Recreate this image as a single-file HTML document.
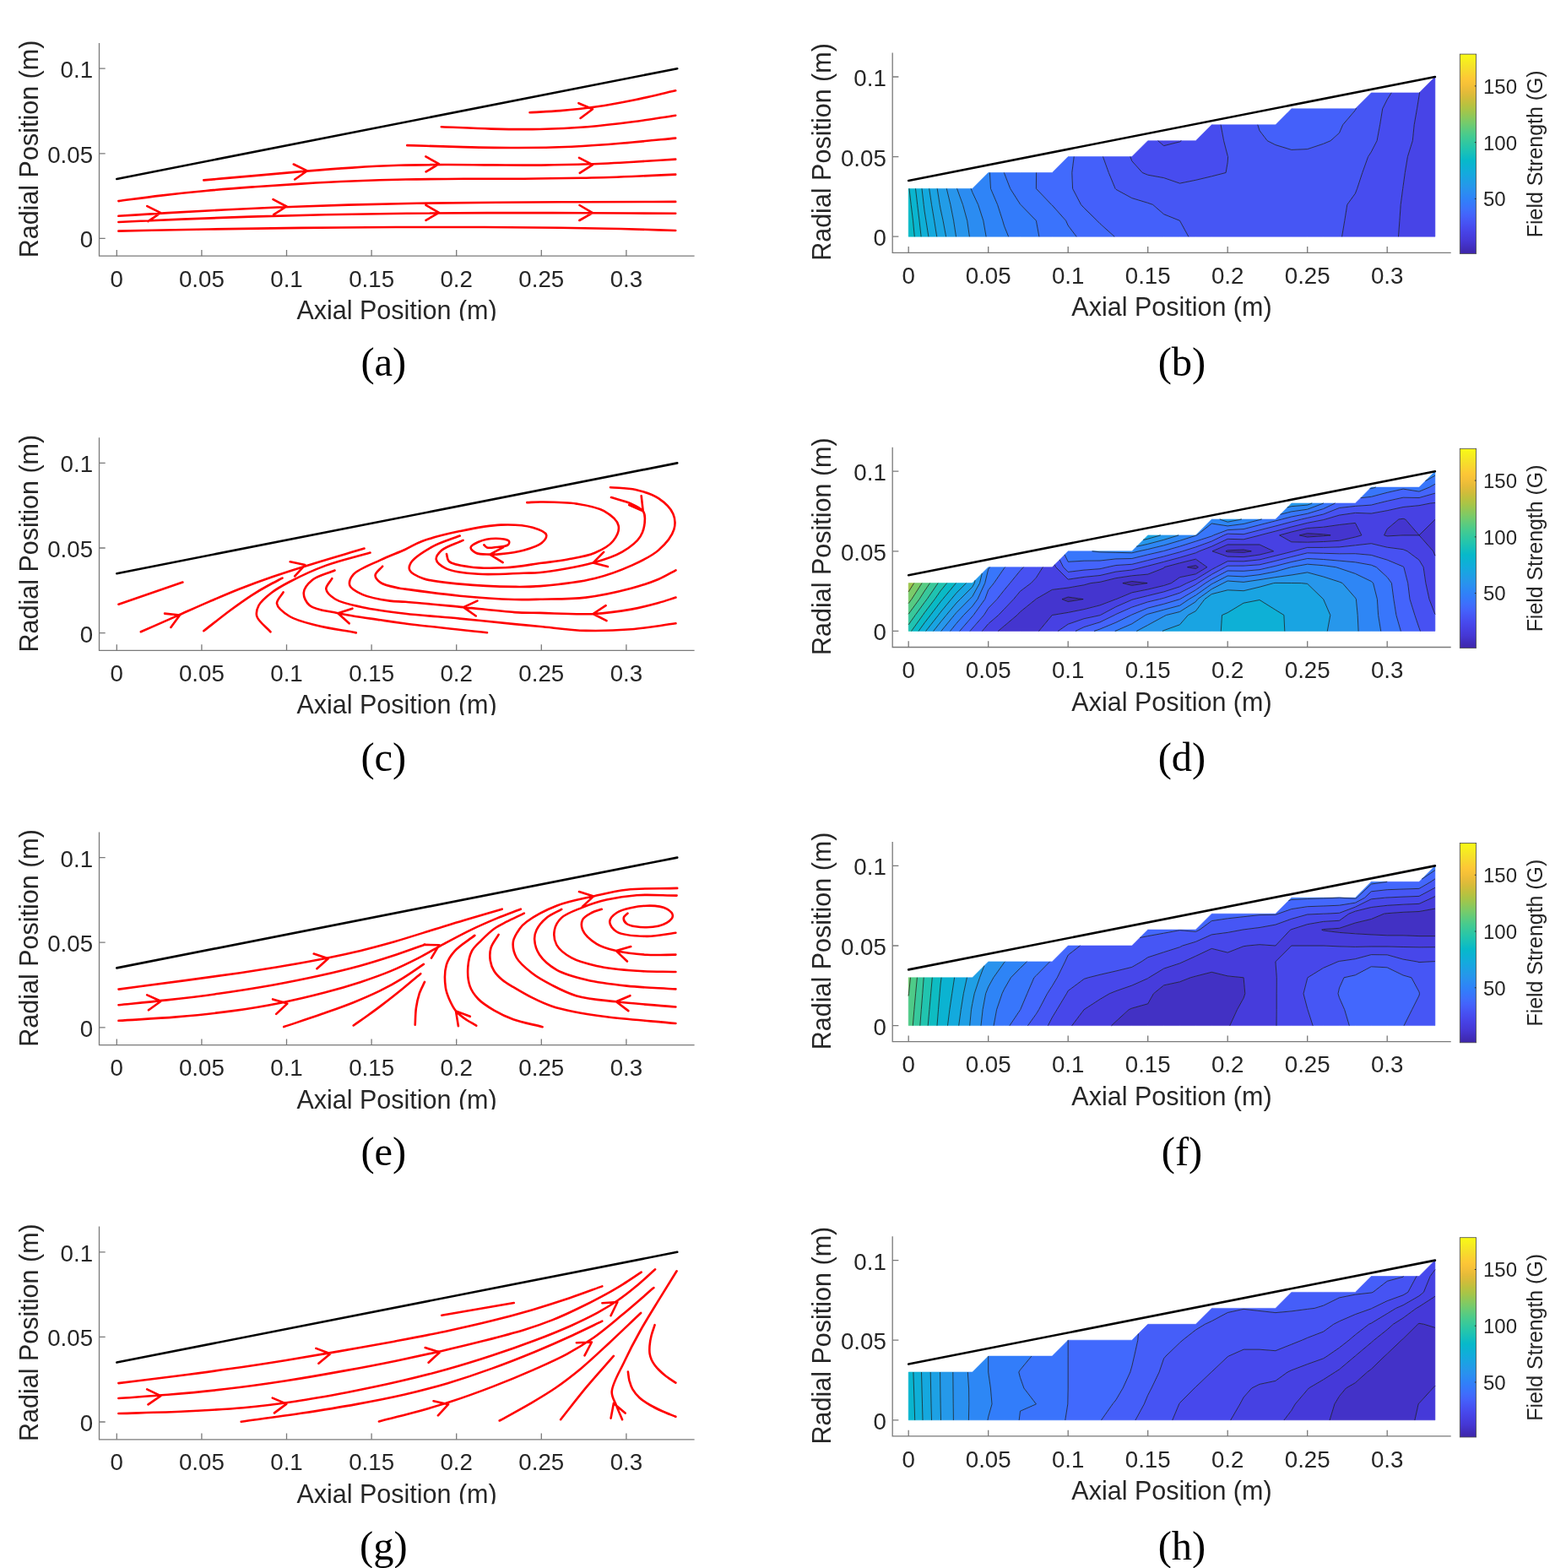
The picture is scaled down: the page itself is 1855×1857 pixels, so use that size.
<!DOCTYPE html>
<html><head><meta charset="utf-8"><style>
html,body{margin:0;padding:0;background:#fff;}
svg{display:block;}
</style></head><body>
<svg xmlns="http://www.w3.org/2000/svg" width="1855" height="1857" viewBox="0 0 1855 1857" font-family="'Liberation Sans', Arial, sans-serif" fill="#262626">
<rect width="1855" height="1857" fill="#fff"/>
<defs><linearGradient id="parula" x1="0" y1="0" x2="0" y2="1"><stop offset="0.0000" stop-color="#f9fb15"/><stop offset="0.0312" stop-color="#f7ee1f"/><stop offset="0.0625" stop-color="#f6e129"/><stop offset="0.0938" stop-color="#f9d430"/><stop offset="0.1250" stop-color="#fdc736"/><stop offset="0.1562" stop-color="#f4c038"/><stop offset="0.1875" stop-color="#e5bb39"/><stop offset="0.2188" stop-color="#d2bc3a"/><stop offset="0.2500" stop-color="#bcc13e"/><stop offset="0.2812" stop-color="#a6c548"/><stop offset="0.3125" stop-color="#8ec859"/><stop offset="0.3438" stop-color="#76cb6b"/><stop offset="0.3750" stop-color="#5ecb7d"/><stop offset="0.4062" stop-color="#47cb8e"/><stop offset="0.4375" stop-color="#35c89d"/><stop offset="0.4688" stop-color="#24c5ac"/><stop offset="0.5000" stop-color="#16bfbb"/><stop offset="0.5312" stop-color="#07b9c9"/><stop offset="0.5625" stop-color="#0cb2d3"/><stop offset="0.5938" stop-color="#13abdc"/><stop offset="0.6250" stop-color="#1ba2e3"/><stop offset="0.6562" stop-color="#2499e9"/><stop offset="0.6875" stop-color="#2a8ff0"/><stop offset="0.7188" stop-color="#2e84f7"/><stop offset="0.7500" stop-color="#3579fb"/><stop offset="0.7812" stop-color="#3e6efc"/><stop offset="0.8125" stop-color="#4461fb"/><stop offset="0.8438" stop-color="#4654f4"/><stop offset="0.8750" stop-color="#4748ec"/><stop offset="0.9062" stop-color="#463fe1"/><stop offset="0.9375" stop-color="#4537d4"/><stop offset="0.9688" stop-color="#412ebe"/><stop offset="1.0000" stop-color="#3e26a8"/></linearGradient><clipPath id="clipx0L"><rect x="0" y="0" width="1855" height="379.7"/></clipPath><clipPath id="clipx0R"><rect x="0" y="0" width="1855" height="1000"/></clipPath><clipPath id="clipx1L"><rect x="0" y="467.2" width="1855" height="379.7"/></clipPath><clipPath id="clipx1R"><rect x="0" y="467.2" width="1855" height="1000"/></clipPath><clipPath id="clipx2L"><rect x="0" y="934.4" width="1855" height="379.7"/></clipPath><clipPath id="clipx2R"><rect x="0" y="934.4" width="1855" height="1000"/></clipPath><clipPath id="clipx3L"><rect x="0" y="1401.6" width="1855" height="379.7"/></clipPath><clipPath id="clipx3R"><rect x="0" y="1401.6" width="1855" height="1000"/></clipPath></defs>
<g id="row0">
<path d="M1656.5 280.2L1662.1 280.2L1681 280.2L1699.9 280.2L1699.9 261.3L1699.9 242.4L1699.9 223.4L1699.9 204.5L1699.9 185.6L1699.9 166.7L1699.9 147.8L1699.9 128.8L1699.9 109.9L1699.9 91L1681.5 109.4L1681.5 109.9L1681 113.3L1678.5 128.8L1675.2 147.8L1673.3 166.7L1667.4 185.6L1664.3 204.5L1662.1 220.5L1661.7 223.4L1659.2 242.4L1657.9 261.3ZM1371.7 166.7L1378.6 172.6L1397.5 167.9L1399.3 166.7L1397.5 166.7L1378.6 166.7Z" fill="#4744e7" stroke="#4744e7" stroke-width="0.6" stroke-linejoin="round"/>
<path d="M1589.6 280.2L1605.4 280.2L1624.3 280.2L1643.2 280.2L1656.5 280.2L1657.9 261.3L1659.2 242.4L1661.7 223.4L1662.1 220.5L1664.3 204.5L1667.4 185.6L1673.3 166.7L1675.2 147.8L1678.5 128.8L1681 113.3L1681.5 109.9L1681.5 109.4L1681 109.9L1662.1 109.9L1648.1 109.9L1643.2 117.8L1637.7 128.8L1634.6 147.8L1631.1 166.7L1624.3 179.9L1620.6 185.6L1613.8 204.5L1607.6 223.4L1605.4 229.1L1595.8 242.4L1592.8 261.3ZM1353.2 204.5L1359.7 207.2L1378.6 210.6L1397.5 217.1L1416.4 213.3L1435.3 208.8L1452.1 204.5L1454.2 192.1L1454.6 185.6L1454.2 184.5L1449.6 166.7L1446.1 147.8L1435.3 147.8L1416.4 166.7L1399.3 166.7L1397.5 167.9L1378.6 172.6L1371.7 166.7L1359.7 166.7L1340.8 185.6L1338.9 185.6L1340.8 190.7Z" fill="#474cef" stroke="#474cef" stroke-width="0.6" stroke-linejoin="round"/>
<path d="M1397.5 261.3L1397.5 261.3L1407.8 280.2L1416.4 280.2L1435.3 280.2L1454.2 280.2L1473.1 280.2L1492 280.2L1510.9 280.2L1529.8 280.2L1548.7 280.2L1567.6 280.2L1586.5 280.2L1589.6 280.2L1592.8 261.3L1595.8 242.4L1605.4 229.1L1607.6 223.4L1613.8 204.5L1620.6 185.6L1624.3 179.9L1631.1 166.7L1634.6 147.8L1637.7 128.8L1643.2 117.8L1648.1 109.9L1643.2 109.9L1624.3 109.9L1606.2 128L1606.3 128.8L1605.4 130.5L1590.6 147.8L1586.5 157.4L1576.2 166.7L1567.6 170.3L1548.7 176.6L1529.8 177.4L1510.9 171.6L1501.2 166.7L1492 154.7L1489.8 147.8L1473.1 147.8L1454.2 147.8L1446.1 147.8L1449.6 166.7L1454.2 184.5L1454.6 185.6L1454.2 192.1L1452.1 204.5L1435.3 208.8L1416.4 213.3L1397.5 217.1L1378.6 210.6L1359.7 207.2L1353.2 204.5L1340.8 190.7L1338.9 185.6L1321.9 185.6L1306.5 185.6L1313.3 204.5L1321.1 223.4L1321.9 224.3L1340.8 234.6L1359.7 240.3L1365.6 242.4L1378.6 253.7Z" fill="#4656f4" stroke="#4656f4" stroke-width="0.6" stroke-linejoin="round"/>
<path d="M1299.5 261.3L1303 264.8L1320.1 280.2L1321.9 280.2L1340.8 280.2L1359.7 280.2L1378.6 280.2L1397.5 280.2L1407.8 280.2L1397.5 261.3L1397.5 261.3L1378.6 253.7L1365.6 242.4L1359.7 240.3L1340.8 234.6L1321.9 224.3L1321.1 223.4L1313.3 204.5L1306.5 185.6L1303 185.6L1284.1 185.6L1272.2 185.6L1269.8 204.5L1270.6 223.4L1280.5 242.4L1284.1 246.2ZM1501.2 166.7L1510.9 171.6L1529.8 177.4L1548.7 176.6L1567.6 170.3L1576.2 166.7L1586.5 157.4L1590.6 147.8L1605.4 130.5L1606.3 128.8L1606.2 128L1605.4 128.8L1586.5 128.8L1567.6 128.8L1548.7 128.8L1529.8 128.8L1510.9 147.8L1492 147.8L1489.8 147.8L1492 154.7Z" fill="#4460fa" stroke="#4460fa" stroke-width="0.6" stroke-linejoin="round"/>
<path d="M1262.6 261.3L1265.2 267.1L1275.1 280.2L1284.1 280.2L1303 280.2L1320.1 280.2L1303 264.8L1299.5 261.3L1284.1 246.2L1280.5 242.4L1270.6 223.4L1269.8 204.5L1272.2 185.6L1265.2 185.6L1246.3 204.5L1227.6 204.5L1227.4 223.4L1227.4 223.4L1227.4 223.4L1245.5 242.4L1246.3 243Z" fill="#416afd" stroke="#416afd" stroke-width="0.6" stroke-linejoin="round"/>
<path d="M1227.4 261.3L1227.4 261.3L1230.9 280.2L1246.3 280.2L1265.2 280.2L1275.1 280.2L1265.2 267.1L1262.6 261.3L1246.3 243L1245.5 242.4L1227.4 223.4L1227.4 223.4L1227.4 223.4L1227.6 204.5L1227.4 204.5L1208.5 204.5L1189.6 204.5L1189.4 204.5L1189.6 205.1L1196.7 223.4L1208.5 241.9L1209 242.4Z" fill="#3a73fc" stroke="#3a73fc" stroke-width="0.6" stroke-linejoin="round"/>
<path d="M1187.7 261.3L1189.6 267.8L1194.6 280.2L1208.5 280.2L1227.4 280.2L1230.9 280.2L1227.4 261.3L1227.4 261.3L1209 242.4L1208.5 241.9L1196.7 223.4L1189.6 205.1L1189.4 204.5L1172.4 204.5L1173.5 223.4L1181.6 242.4Z" fill="#337bfa" stroke="#337bfa" stroke-width="0.6" stroke-linejoin="round"/>
<path d="M1168.1 280.2L1170.7 280.2L1189.6 280.2L1194.6 280.2L1189.6 267.8L1187.7 261.3L1181.6 242.4L1173.5 223.4L1172.4 204.5L1170.7 204.5L1151.8 223.4L1150.2 223.4L1151.8 227.7L1158.7 242.4L1164.8 261.3Z" fill="#2f84f7" stroke="#2f84f7" stroke-width="0.6" stroke-linejoin="round"/>
<path d="M1148.4 280.2L1151.8 280.2L1168.1 280.2L1164.8 261.3L1158.7 242.4L1151.8 227.7L1150.2 223.4L1133.6 223.4L1140.5 242.4L1145.7 261.3Z" fill="#2b8cf1" stroke="#2b8cf1" stroke-width="0.6" stroke-linejoin="round"/>
<path d="M1132.5 280.2L1132.9 280.2L1148.4 280.2L1145.7 261.3L1140.5 242.4L1133.6 223.4L1132.9 223.4L1121.3 223.4L1125.9 242.4L1129.6 261.3Z" fill="#2895ec" stroke="#2895ec" stroke-width="0.6" stroke-linejoin="round"/>
<path d="M1120.6 280.2L1132.5 280.2L1129.6 261.3L1125.9 242.4L1121.3 223.4L1114 223.4L1110.2 223.4L1113.2 242.4L1114 247.2L1117.1 261.3Z" fill="#229ce7" stroke="#229ce7" stroke-width="0.6" stroke-linejoin="round"/>
<path d="M1109.7 280.2L1114 280.2L1120.6 280.2L1117.1 261.3L1114 247.2L1113.2 242.4L1110.2 223.4L1100.7 223.4L1103.5 242.4L1106.7 261.3Z" fill="#1ba3e2" stroke="#1ba3e2" stroke-width="0.6" stroke-linejoin="round"/>
<path d="M1099.9 280.2L1109.7 280.2L1106.7 261.3L1103.5 242.4L1100.7 223.4L1095.1 223.4L1092 223.4L1094.2 242.4L1095.1 250L1096.9 261.3Z" fill="#14a9de" stroke="#14a9de" stroke-width="0.6" stroke-linejoin="round"/>
<path d="M1091.1 280.2L1095.1 280.2L1099.9 280.2L1096.9 261.3L1095.1 250L1094.2 242.4L1092 223.4L1084.5 223.4L1086.7 242.4L1089 261.3Z" fill="#0fafd6" stroke="#0fafd6" stroke-width="0.6" stroke-linejoin="round"/>
<path d="M1083.3 280.2L1091.1 280.2L1089 261.3L1086.7 242.4L1084.5 223.4L1077 223.4L1079.2 242.4L1081.5 261.3Z" fill="#0ab5cf" stroke="#0ab5cf" stroke-width="0.6" stroke-linejoin="round"/>
<path d="M1076.2 280.2L1083.3 280.2L1081.5 261.3L1079.2 242.4L1077 223.4L1076.2 223.4L1076.2 242.4L1076.2 261.3Z" fill="#09bac7" stroke="#09bac7" stroke-width="0.6" stroke-linejoin="round"/>
<path d="M1656.5 280.2L1657.9 261.3L1659.2 242.4L1661.7 223.4L1662.1 220.5L1664.3 204.5L1667.4 185.6L1673.3 166.7L1675.2 147.8L1678.5 128.8L1681 113.3L1681.5 109.9L1681.5 109.4M1399.3 166.7L1397.5 167.9L1378.6 172.6L1371.7 166.7M1589.6 280.2L1592.8 261.3L1595.8 242.4L1605.4 229.1L1607.6 223.4L1613.8 204.5L1620.6 185.6L1624.3 179.9L1631.1 166.7L1634.6 147.8L1637.7 128.8L1643.2 117.8L1648.1 109.9M1446.1 147.8L1449.6 166.7L1454.2 184.5L1454.6 185.6L1454.2 192.1L1452.1 204.5L1435.3 208.8L1416.4 213.3L1397.5 217.1L1378.6 210.6L1359.7 207.2L1353.2 204.5L1340.8 190.7L1338.9 185.6M1407.8 280.2L1397.5 261.3L1397.5 261.3L1378.6 253.7L1365.6 242.4L1359.7 240.3L1340.8 234.6L1321.9 224.3L1321.1 223.4L1313.3 204.5L1306.5 185.6M1489.8 147.8L1492 154.7L1501.2 166.7L1510.9 171.6L1529.8 177.4L1548.7 176.6L1567.6 170.3L1576.2 166.7L1586.5 157.4L1590.6 147.8L1605.4 130.5L1606.3 128.8L1606.2 128M1320.1 280.2L1303 264.8L1299.5 261.3L1284.1 246.2L1280.5 242.4L1270.6 223.4L1269.8 204.5L1272.2 185.6M1275.1 280.2L1265.2 267.1L1262.6 261.3L1246.3 243L1245.5 242.4L1227.4 223.4L1227.4 223.4L1227.4 223.4L1227.6 204.5M1230.9 280.2L1227.4 261.3L1227.4 261.3L1209 242.4L1208.5 241.9L1196.7 223.4L1189.6 205.1L1189.4 204.5M1194.6 280.2L1189.6 267.8L1187.7 261.3L1181.6 242.4L1173.5 223.4L1172.4 204.5M1168.1 280.2L1164.8 261.3L1158.7 242.4L1151.8 227.7L1150.2 223.4M1148.4 280.2L1145.7 261.3L1140.5 242.4L1133.6 223.4M1132.5 280.2L1129.6 261.3L1125.9 242.4L1121.3 223.4M1120.6 280.2L1117.1 261.3L1114 247.2L1113.2 242.4L1110.2 223.4M1109.7 280.2L1106.7 261.3L1103.5 242.4L1100.7 223.4M1099.9 280.2L1096.9 261.3L1095.1 250L1094.2 242.4L1092 223.4M1091.1 280.2L1089 261.3L1086.7 242.4L1084.5 223.4M1083.3 280.2L1081.5 261.3L1079.2 242.4L1077 223.4" fill="none" stroke="#1a1a1a" stroke-width="0.75" stroke-linejoin="round"/>
<path d="M1076.2 213.98L1699.9 91" stroke="#000" stroke-width="2.6" stroke-linecap="round"/>
<path d="M1057.2 62.6V299.3H1718.7" fill="none" stroke="#7a7a7a" stroke-width="1.3"/>
<path d="M1076.2 299.3v-7.2 M1170.7 299.3v-7.2 M1265.2 299.3v-7.2 M1359.7 299.3v-7.2 M1454.2 299.3v-7.2 M1548.7 299.3v-7.2 M1643.2 299.3v-7.2 M1057.2 280.2h7.2 M1057.2 185.6h7.2 M1057.2 91h7.2" stroke="#7a7a7a" stroke-width="1.3"/>
<text x="1076.2" y="335.9" text-anchor="middle" font-size="27.7">0</text>
<text x="1170.7" y="335.9" text-anchor="middle" font-size="27.7">0.05</text>
<text x="1265.2" y="335.9" text-anchor="middle" font-size="27.7">0.1</text>
<text x="1359.7" y="335.9" text-anchor="middle" font-size="27.7">0.15</text>
<text x="1454.2" y="335.9" text-anchor="middle" font-size="27.7">0.2</text>
<text x="1548.7" y="335.9" text-anchor="middle" font-size="27.7">0.25</text>
<text x="1643.2" y="335.9" text-anchor="middle" font-size="27.7">0.3</text>
<text x="1049.8" y="291.2" text-anchor="end" font-size="27.7">0</text>
<text x="1049.8" y="196.6" text-anchor="end" font-size="27.7">0.05</text>
<text x="1049.8" y="102" text-anchor="end" font-size="27.7">0.1</text>
<text x="1387.95" y="374.3" text-anchor="middle" font-size="30.5" clip-path="url(#clipx0R)">Axial Position (m)</text>
<text transform="translate(984,180) rotate(-90)" text-anchor="middle" font-size="30.5">Radial Position (m)</text>
<text x="1400" y="445.3" text-anchor="middle" font-family="'Liberation Serif', 'Times New Roman', serif" font-size="48.5" fill="#000">(b)</text>
<rect x="1729.3" y="64.1" width="19.3" height="236.3" fill="url(#parula)" stroke="#4a4a4a" stroke-width="0.8"/>
<text x="1757" y="244.28" font-size="24.0">50</text>
<text x="1757" y="177.53" font-size="24.0">100</text>
<text x="1757" y="110.78" font-size="24.0">150</text>
<path d="M1748.6 235.38h-1.8 M1748.6 168.63h-1.8 M1748.6 101.88h-1.8" stroke="#333" stroke-width="1"/>
<text transform="translate(1827.4,182.25) rotate(-90)" text-anchor="middle" font-size="24.9">Field Strength (G)</text>
<path d="M140.4 273.6C176 272.9 211.3 272.1 247.1 271.5C283.5 270.9 320.4 270.3 357.2 269.9C394.2 269.5 432.1 269.2 468.7 269C504.2 268.9 540.2 268.9 573.7 269C604.6 269.1 634.6 269.3 662.8 269.7C688.2 270 711.8 270.5 735.3 271C757.6 271.6 778.6 272.3 800.2 273M140.4 263C165.4 261.9 189.8 260.6 215.3 259.6C241.8 258.5 268.8 257.5 296.4 256.6C325.3 255.7 354.8 254.9 385 254.3C416.6 253.6 449 253.1 481.9 252.7C516 252.4 551.2 252.2 586.3 252.1C621.8 252 657.8 252.1 693.5 252.3C729.1 252.4 764.6 252.6 800.2 252.8M504.4 242.9L520 251.8L504.5 260.9M686.5 243L702 252.1L686.4 261M140.4 255.8C159.9 254.6 178.8 253.3 198.9 252.1C220.3 250.8 242.6 249.6 265.3 248.5C289 247.3 313.5 246.1 337.9 245.2C362.6 244.2 387.1 243.3 412.6 242.6C439.1 241.8 465.7 241.3 493.8 240.8C524.2 240.3 556.2 240 588.6 239.7C622.7 239.4 658.4 239.3 693.5 239.2C728.9 239 764.6 239 800.2 238.9M174.3 244.1L190.4 252.1L175.4 262.1M323.5 236.1L339.4 244.5L324.2 254.1M140.4 238.1C157.1 235.9 173.5 233.6 190.5 231.6C208 229.5 225.8 227.6 243.8 226C262.3 224.2 281 222.8 299.8 221.4C318.8 220 337.8 218.7 357 217.6C376.8 216.4 396.5 215.3 416.8 214.5C437.7 213.6 459 212.9 480.7 212.5C503.1 212 526.1 212 549.1 211.8C572.7 211.7 596.9 211.9 620.4 211.7C643.4 211.5 666.8 211.3 688.8 210.8C709.3 210.4 729.1 209.7 748.3 209C766.2 208.3 782.9 207.4 800.2 206.6M241.3 213.4C261.2 211.6 281.2 209.8 301 208.1C320.7 206.3 340.3 204.5 359.8 202.9C379 201.3 398.2 199.8 417.1 198.6C435.7 197.4 454.1 196.4 472.4 195.8C490.6 195.2 508.4 195.1 526.6 195C545.1 194.9 563.7 195.3 582.5 195.4C601.7 195.5 621.5 195.8 640.8 195.6C659.9 195.4 679.2 195 697.9 194.3C715.9 193.7 733.5 192.7 750.9 191.7C767.6 190.8 783.8 189.6 800.2 188.6M347.8 194.5L364 202.3L349.2 212.5M504.3 185.4L520 194.2L504.6 203.4M686 186.8L702 195.1L686.8 204.8M482.3 172.1C504.5 172.8 526.8 173.6 548.9 174.1C570.9 174.6 593 175.1 614.7 175C635.7 175 656.3 174.6 677 173.7C697.4 172.7 717.3 171.2 737.7 169.5C758.4 167.8 779.4 165.6 800.2 163.6M522.8 150.2C542.5 151 562.2 152.1 581.8 152.6C601.1 153.1 620.4 153.4 639.6 153C658.4 152.6 677.3 151.7 695.8 150.2C713.9 148.8 731.9 146.6 749.5 144.3C766.6 142.1 783.3 139.2 800.2 136.7M627.5 133.2C639.6 132.5 651.2 132.2 663.7 131.1C677.1 130 691.2 128.6 705.4 126.5C720.6 124.3 736.4 121.4 752.1 118.2C768 115 784.2 110.9 800.2 107.3M685.4 122.2L702 129.2L687.6 140" fill="none" stroke="#ff0000" stroke-width="2.6" stroke-linecap="round" stroke-linejoin="round"/>
<path d="M138.3 211.98L802.26 81.2" stroke="#000" stroke-width="2.6" stroke-linecap="round"/>
<path d="M117.5 51V303.2H822.6" fill="none" stroke="#7a7a7a" stroke-width="1.3"/>
<path d="M138.3 303.2v-7.2 M238.9 303.2v-7.2 M339.5 303.2v-7.2 M440.1 303.2v-7.2 M540.7 303.2v-7.2 M641.3 303.2v-7.2 M741.9 303.2v-7.2 M117.5 282.4h7.2 M117.5 181.8h7.2 M117.5 81.2h7.2" stroke="#7a7a7a" stroke-width="1.3"/>
<text x="138.3" y="339.8" text-anchor="middle" font-size="27.7">0</text>
<text x="238.9" y="339.8" text-anchor="middle" font-size="27.7">0.05</text>
<text x="339.5" y="339.8" text-anchor="middle" font-size="27.7">0.1</text>
<text x="440.1" y="339.8" text-anchor="middle" font-size="27.7">0.15</text>
<text x="540.7" y="339.8" text-anchor="middle" font-size="27.7">0.2</text>
<text x="641.3" y="339.8" text-anchor="middle" font-size="27.7">0.25</text>
<text x="741.9" y="339.8" text-anchor="middle" font-size="27.7">0.3</text>
<text x="110.1" y="293.4" text-anchor="end" font-size="27.7">0</text>
<text x="110.1" y="192.8" text-anchor="end" font-size="27.7">0.05</text>
<text x="110.1" y="92.2" text-anchor="end" font-size="27.7">0.1</text>
<text x="470.05" y="378.2" text-anchor="middle" font-size="30.5" clip-path="url(#clipx0L)">Axial Position (m)</text>
<text transform="translate(45,176.5) rotate(-90)" text-anchor="middle" font-size="30.5">Radial Position (m)</text>
<text x="454.3" y="445.3" text-anchor="middle" font-family="'Liberation Serif', 'Times New Roman', serif" font-size="48.5" fill="#000">(a)</text>
</g>
<g id="row1">
<path d="M1258 709.6L1265.2 712.5L1283.1 709.6L1265.2 707.1ZM1329.9 690.6L1340.8 693.3L1359.1 690.6L1340.8 688.5ZM1406.5 671.7L1416.4 673.5L1419.4 671.7L1416.4 669.6ZM1452 652.8L1454.2 653.6L1473.1 654.3L1482.3 652.8L1473.1 651.1L1454.2 651.8ZM1539.3 633.9L1548.7 636L1567.6 634.7L1576.1 633.9L1567.6 632.8L1548.7 631.7Z" fill="#3f28ae" stroke="#3f28ae" stroke-width="0.6" stroke-linejoin="round"/>
<path d="M1182.4 747.4L1189.6 747.4L1208.5 747.4L1227.4 747.4L1230.6 747.4L1246.3 728.5L1246.3 728.5L1265.2 725.4L1284.1 721.6L1303 716.8L1321.9 709.6L1322.1 709.6L1340.8 701.8L1359.7 698L1378.6 693.5L1387.4 690.6L1397.5 683.7L1416.4 679.8L1429.9 671.7L1416.4 662.2L1397.5 666.8L1379.2 671.7L1378.6 672.8L1359.7 680.1L1340.8 681.8L1321.9 684.7L1303 689.3L1292.1 690.6L1284.1 692.8L1265.2 696.1L1246.3 698.4L1227.4 709.3L1227.1 709.6L1208.5 724.6L1204.8 728.5L1189.6 741.3ZM1265.2 712.5L1258 709.6L1265.2 707.1L1283.1 709.6ZM1340.8 693.3L1329.9 690.6L1340.8 688.5L1359.1 690.6ZM1416.4 673.5L1406.5 671.7L1416.4 669.6L1419.4 671.7ZM1436.1 652.8L1454.2 659.1L1473.1 659.6L1492 657L1508.6 652.8L1492 645L1473.1 645L1454.2 645ZM1454.2 653.6L1452 652.8L1454.2 651.8L1473.1 651.1L1482.3 652.8L1473.1 654.3ZM1697.8 652.8L1699.9 658.1L1699.9 652.8L1699.9 633.9L1699.9 615.3L1681 633.9L1664.7 615L1662.1 614.3L1656.9 615L1643.2 626.5L1639.6 633.9L1643.2 634.9L1662.1 633.9L1681 633.9ZM1515.6 633.9L1529.8 641.8L1548.7 642.2L1567.6 641.5L1586.5 640.3L1605.4 636L1612.9 633.9L1605.4 619.4L1586.5 621.5L1567.6 624.2L1548.7 625.5L1529.8 630ZM1548.7 636L1539.3 633.9L1548.7 631.7L1567.6 632.8L1576.1 633.9L1567.6 634.7Z" fill="#4435cf" stroke="#4435cf" stroke-width="0.6" stroke-linejoin="round"/>
<path d="M1163.5 747.4L1170.7 747.4L1182.4 747.4L1189.6 741.3L1204.8 728.5L1208.5 724.6L1227.1 709.6L1227.4 709.3L1246.3 698.4L1265.2 696.1L1284.1 692.8L1292.1 690.6L1303 689.3L1321.9 684.7L1340.8 681.8L1359.7 680.1L1378.6 672.8L1379.2 671.7L1397.5 666.8L1416.4 662.2L1429.9 671.7L1416.4 679.8L1397.5 683.7L1387.4 690.6L1378.6 693.5L1359.7 698L1340.8 701.8L1322.1 709.6L1321.9 709.6L1303 716.8L1284.1 721.6L1265.2 725.4L1246.3 728.5L1246.3 728.5L1230.6 747.4L1246.3 747.4L1253.3 747.4L1265.2 739.2L1284.1 732.7L1303 728.7L1303.4 728.5L1321.9 718.6L1340.8 710.3L1343.2 709.6L1359.7 705.5L1378.6 700.9L1397.5 694.8L1405.8 690.6L1416.4 686.1L1435.3 674.5L1440.6 671.7L1454.2 664.7L1473.1 664.8L1492 662.9L1510.9 658.2L1529.8 653.4L1532.1 652.8L1548.7 648.4L1567.6 648.4L1586.5 647.9L1605.4 645.8L1624.3 643.7L1643.2 648.2L1662.1 650.7L1667.1 652.8L1681 663.2L1686.1 671.7L1688.9 690.6L1693 709.6L1699.9 727.5L1699.9 709.6L1699.9 690.6L1699.9 671.7L1699.9 658.1L1697.8 652.8L1681 633.9L1662.1 633.9L1643.2 634.9L1639.6 633.9L1643.2 626.5L1656.9 615L1662.1 614.3L1664.7 615L1681 633.9L1699.9 615.3L1699.9 615L1699.9 596L1699.9 595.5L1694.4 596L1681 598.7L1662.1 600.5L1643.2 604.7L1624.3 608.1L1605.4 607.4L1586.5 610.1L1569.8 615L1567.6 615.6L1548.7 619.3L1529.8 624L1510.9 629.1L1492.2 633.9L1492 634L1473.1 638.8L1454.2 638.3L1435.3 647.1L1420.6 652.8L1416.4 654.8L1397.5 660.3L1378.6 665.4L1359.7 670.3L1354.1 671.7L1340.8 675L1321.9 677.1L1303 681.5L1284.1 683.4L1265.2 686.2L1250.7 671.7L1249.3 668.8L1246.3 671.7L1235.3 671.7L1227.4 684.1L1221.3 690.6L1208.5 700.2L1200.7 709.6L1189.6 721.3L1182.7 728.5L1170.7 738.8ZM1454.2 659.1L1436.1 652.8L1454.2 645L1473.1 645L1492 645L1508.6 652.8L1492 657L1473.1 659.6ZM1529.8 641.8L1515.6 633.9L1529.8 630L1548.7 625.5L1567.6 624.2L1586.5 621.5L1605.4 619.4L1612.9 633.9L1605.4 636L1586.5 640.3L1567.6 641.5L1548.7 642.2Z" fill="#4741e3" stroke="#4741e3" stroke-width="0.6" stroke-linejoin="round"/>
<path d="M1149.1 747.4L1151.8 747.4L1163.5 747.4L1170.7 738.8L1182.7 728.5L1189.6 721.3L1200.7 709.6L1208.5 700.2L1221.3 690.6L1227.4 684.1L1235.3 671.7L1227.4 671.7L1212.4 671.7L1208.5 675.8L1196.4 690.6L1189.6 698.8L1181 709.6L1170.7 720.3L1165.5 728.5L1151.8 744.2ZM1253.3 747.4L1265.2 747.4L1274 747.4L1284.1 742.6L1303 736.8L1320.1 728.5L1321.9 727.5L1340.8 719.1L1359.7 712.9L1373.5 709.6L1378.6 708.3L1397.5 702.2L1416.4 692.4L1418.9 690.6L1435.3 680.3L1451.3 671.7L1454.2 670.2L1473.1 670.1L1492 668.8L1510.9 664.3L1529.8 659.5L1548.7 654.8L1567.6 655.3L1586.5 655.8L1605.4 655.7L1624.3 657.4L1643.2 663.1L1662.1 671L1662.9 671.7L1667.7 690.6L1670 709.6L1675.9 728.5L1681 743.6L1682.4 747.4L1699.9 747.4L1699.9 728.5L1699.9 727.5L1693 709.6L1688.9 690.6L1686.1 671.7L1681 663.2L1667.1 652.8L1662.1 650.7L1643.2 648.2L1624.3 643.7L1605.4 645.8L1586.5 647.9L1567.6 648.4L1548.7 648.4L1532.1 652.8L1529.8 653.4L1510.9 658.2L1492 662.9L1473.1 664.8L1454.2 664.7L1440.6 671.7L1435.3 674.5L1416.4 686.1L1405.8 690.6L1397.5 694.8L1378.6 700.9L1359.7 705.5L1343.2 709.6L1340.8 710.3L1321.9 718.6L1303.4 728.5L1303 728.7L1284.1 732.7L1265.2 739.2ZM1250.7 671.7L1265.2 686.2L1284.1 683.4L1303 681.5L1321.9 677.1L1340.8 675L1354.1 671.7L1359.7 670.3L1378.6 665.4L1397.5 660.3L1416.4 654.8L1420.6 652.8L1435.3 647.1L1454.2 638.3L1473.1 638.8L1492 634L1492.2 633.9L1510.9 629.1L1529.8 624L1548.7 619.3L1567.6 615.6L1569.8 615L1586.5 610.1L1605.4 607.4L1624.3 608.1L1643.2 604.7L1662.1 600.5L1681 598.7L1694.4 596L1699.9 595.5L1699.9 584.2L1681 589.5L1662.1 589.2L1643.2 593.4L1632.4 596L1624.3 598.1L1605.4 599.4L1586.5 601.5L1567.6 609L1548.7 613.4L1541.6 615L1529.8 618L1510.9 623L1492 627.8L1473.1 632.7L1454.2 632.2L1449.8 633.9L1435.3 641L1416.4 647.9L1400.8 652.8L1397.5 653.8L1378.6 659L1359.7 663.6L1340.8 668.3L1321.9 669.5L1311.7 671.7L1303 673.7L1284.1 675.1L1265.2 677.4L1259.6 671.7L1255.2 662.9L1249.3 668.8Z" fill="#4751f2" stroke="#4751f2" stroke-width="0.6" stroke-linejoin="round"/>
<path d="M1136.8 747.4L1149.1 747.4L1151.8 744.2L1165.5 728.5L1170.7 720.3L1181 709.6L1189.6 698.8L1196.4 690.6L1208.5 675.8L1212.4 671.7L1208.5 671.7L1190.5 671.7L1189.6 672.8L1177.3 690.6L1170.7 698.8L1166.7 709.6L1153.1 728.5L1151.8 730ZM1274 747.4L1284.1 747.4L1296.1 747.4L1303 745L1321.9 737.2L1339.8 728.5L1340.8 728L1359.7 720.1L1378.6 715.3L1397.5 709.7L1397.7 709.6L1416.4 698.7L1427.9 690.6L1435.3 686L1454.2 676L1473.1 676.3L1492 674.7L1504.9 671.7L1510.9 670.3L1529.8 665.5L1548.7 661.5L1567.6 662.5L1586.5 664.1L1605.4 665.8L1624.3 669.2L1630.3 671.7L1643.2 683.5L1648.4 690.6L1650.9 709.6L1653.9 728.5L1659.3 747.4L1662.1 747.4L1681 747.4L1682.4 747.4L1681 743.6L1675.9 728.5L1670 709.6L1667.7 690.6L1662.9 671.7L1662.1 671L1643.2 663.1L1624.3 657.4L1605.4 655.7L1586.5 655.8L1567.6 655.3L1548.7 654.8L1529.8 659.5L1510.9 664.3L1492 668.8L1473.1 670.1L1454.2 670.2L1451.3 671.7L1435.3 680.3L1418.9 690.6L1416.4 692.4L1397.5 702.2L1378.6 708.3L1373.5 709.6L1359.7 712.9L1340.8 719.1L1321.9 727.5L1320.1 728.5L1303 736.8L1284.1 742.6ZM1259.6 671.7L1265.2 677.4L1284.1 675.1L1303 673.7L1311.7 671.7L1321.9 669.5L1340.8 668.3L1359.7 663.6L1378.6 659L1397.5 653.8L1400.8 652.8L1416.4 647.9L1435.3 641L1449.8 633.9L1454.2 632.2L1473.1 632.7L1492 627.8L1510.9 623L1529.8 618L1541.6 615L1548.7 613.4L1567.6 609L1586.5 601.5L1605.4 599.4L1624.3 598.1L1632.4 596L1643.2 593.4L1662.1 589.2L1681 589.5L1699.9 584.2L1699.9 577.1L1699.9 573.3L1693.1 577.1L1681 582.1L1662.1 579.1L1643.2 583.3L1624.3 588.3L1611.8 589.7L1605.4 596L1586.5 596L1581.5 596L1567.6 602.6L1548.7 608.3L1529.8 612L1518.3 615L1510.9 616.9L1492 621.7L1473.1 626.6L1454.2 627.6L1437.5 633.9L1435.3 635L1416.4 641.1L1397.5 647.1L1378.6 652.5L1377.3 652.8L1359.7 656.9L1340.8 661.5L1321.9 661.9L1303 664L1284.1 664.2L1265.2 665.3L1261.1 656.9L1255.2 662.9Z" fill="#4464fc" stroke="#4464fc" stroke-width="0.6" stroke-linejoin="round"/>
<path d="M1125.6 747.4L1132.9 747.4L1136.8 747.4L1151.8 730L1153.1 728.5L1166.7 709.6L1170.7 698.8L1177.3 690.6L1189.6 672.8L1190.5 671.7L1189.6 671.7L1172.5 671.7L1170.7 674.2L1166.7 690.6L1158 709.6L1151.8 718L1141.5 728.5L1132.9 738.3ZM1296.1 747.4L1303 747.4L1320.8 747.4L1321.9 747L1340.8 738.8L1356.9 728.5L1359.7 727.3L1378.6 722.2L1397.5 717.1L1408.5 709.6L1416.4 705L1435.3 691.7L1437.5 690.6L1454.2 682L1473.1 682.9L1492 680.6L1510.9 676.9L1529.4 671.7L1529.8 671.6L1548.7 668.2L1567.6 669.7L1582.4 671.7L1586.5 673L1605.4 679.4L1624.3 688.5L1626.6 690.6L1631.4 709.6L1632.6 728.5L1635.7 747.4L1643.2 747.4L1659.3 747.4L1653.9 728.5L1650.9 709.6L1648.4 690.6L1643.2 683.5L1630.3 671.7L1624.3 669.2L1605.4 665.8L1586.5 664.1L1567.6 662.5L1548.7 661.5L1529.8 665.5L1510.9 670.3L1504.9 671.7L1492 674.7L1473.1 676.3L1454.2 676L1435.3 686L1427.9 690.6L1416.4 698.7L1397.7 709.6L1397.5 709.7L1378.6 715.3L1359.7 720.1L1340.8 728L1339.8 728.5L1321.9 737.2L1303 745ZM1265.2 652.8L1261.1 656.9L1265.2 665.3L1284.1 664.2L1303 664L1321.9 661.9L1340.8 661.5L1359.7 656.9L1377.3 652.8L1378.6 652.5L1397.5 647.1L1416.4 641.1L1435.3 635L1437.5 633.9L1454.2 627.6L1473.1 626.6L1492 621.7L1510.9 616.9L1518.3 615L1529.8 612L1548.7 608.3L1567.6 602.6L1581.5 596L1567.8 596L1567.6 596.1L1548.7 603.2L1529.8 605.9L1516.6 609.3L1510.9 615L1494.6 615L1492 615.6L1473.1 620.5L1454.2 622.9L1435.3 620L1417.7 633.9L1416.4 634.3L1397.5 640.3L1378.6 645.9L1359.7 650.5L1349.1 652.8L1340.8 654.8L1321.9 654.3L1303 653.8L1293.6 652.8L1284.1 652.8ZM1622.6 578.8L1611.8 589.7L1624.3 588.3L1643.2 583.3L1662.1 579.1L1681 582.1L1693.1 577.1L1699.9 573.3L1699.9 563.2L1688.4 569.7L1681 577.1L1662.1 577.1L1643.2 577.1L1629.7 577.1L1624.3 578.6Z" fill="#3876fb" stroke="#3876fb" stroke-width="0.6" stroke-linejoin="round"/>
<path d="M1114.9 747.4L1125.6 747.4L1132.9 738.3L1141.5 728.5L1151.8 718L1158 709.6L1166.7 690.6L1170.7 674.2L1172.5 671.7L1170.7 671.7L1163.3 679.1L1160.5 690.6L1151.8 706.4L1148.6 709.6L1132.9 725.5L1130.4 728.5ZM1320.8 747.4L1321.9 747.4L1340.8 747.4L1346.4 747.4L1359.7 740.3L1378.6 730L1381.4 728.5L1397.5 724.5L1416.4 712.6L1418.7 709.6L1435.3 697.7L1449 690.6L1454.2 688L1473.1 689.4L1492 686.6L1510.9 683.6L1529.8 681L1548.7 677.9L1567.6 683L1586.5 689.1L1590.2 690.6L1605.4 708L1606.4 709.6L1608.2 728.5L1609.1 747.4L1624.3 747.4L1635.7 747.4L1632.6 728.5L1631.4 709.6L1626.6 690.6L1624.3 688.5L1605.4 679.4L1586.5 673L1582.4 671.7L1567.6 669.7L1548.7 668.2L1529.8 671.6L1529.4 671.7L1510.9 676.9L1492 680.6L1473.1 682.9L1454.2 682L1437.5 690.6L1435.3 691.7L1416.4 705L1408.5 709.6L1397.5 717.1L1378.6 722.2L1359.7 727.3L1356.9 728.5L1340.8 738.8L1321.9 747ZM1293.6 652.8L1303 653.8L1321.9 654.3L1340.8 654.8L1349.1 652.8L1359.7 650.5L1378.6 645.9L1397.5 640.3L1416.4 634.3L1417.7 633.9L1435.3 620L1454.2 622.9L1473.1 620.5L1492 615.6L1494.6 615L1492 615L1473.1 615L1470.8 615L1454.2 618.2L1444.8 615L1435.3 615L1416.4 633.9L1397.5 633.9L1396.2 633.9L1378.6 639.3L1359.7 644.3L1346.3 647.3L1340.8 652.8L1321.9 652.8L1303 652.8ZM1524.8 601L1516.6 609.3L1529.8 605.9L1548.7 603.2L1567.6 596.1L1567.8 596L1567.6 596L1554.2 596L1548.7 598.1L1529.8 599.7ZM1624.3 577.1L1622.6 578.8L1624.3 578.6L1629.7 577.1ZM1699.9 558.2L1688.4 569.7L1699.9 563.2Z" fill="#2e86f5" stroke="#2e86f5" stroke-width="0.6" stroke-linejoin="round"/>
<path d="M1105.7 747.4L1114 747.4L1114.9 747.4L1130.4 728.5L1132.9 725.5L1148.6 709.6L1151.8 706.4L1160.5 690.6L1163.3 679.1L1155.1 687.3L1154.3 690.6L1151.8 695.1L1137.4 709.6L1132.9 714.1L1120.9 728.5L1114 736.9ZM1346.4 747.4L1359.7 747.4L1377 747.4L1378.6 746.6L1397.5 739.8L1407.3 728.5L1416.4 723.7L1427 709.6L1435.3 703.6L1454.2 698.8L1473.1 699.7L1492 695.2L1508.7 690.6L1510.9 690.4L1529.8 690.5L1541.4 690.6L1548.7 691.4L1567.6 709.6L1567.6 709.6L1575.8 728.5L1572.3 747.4L1586.5 747.4L1605.4 747.4L1609.1 747.4L1608.2 728.5L1606.4 709.6L1605.4 708L1590.2 690.6L1586.5 689.1L1567.6 683L1548.7 677.9L1529.8 681L1510.9 683.6L1492 686.6L1473.1 689.4L1454.2 688L1449 690.6L1435.3 697.7L1418.7 709.6L1416.4 712.6L1397.5 724.5L1381.4 728.5L1378.6 730L1359.7 740.3ZM1354.2 639.4L1346.3 647.3L1359.7 644.3L1378.6 639.3L1396.2 633.9L1378.6 633.9L1374.7 633.9L1359.7 638.2ZM1444.8 615L1454.2 618.2L1470.8 615L1454.2 615ZM1529.8 596L1524.8 601L1529.8 599.7L1548.7 598.1L1554.2 596L1548.7 596Z" fill="#2797eb" stroke="#2797eb" stroke-width="0.6" stroke-linejoin="round"/>
<path d="M1096.7 747.4L1105.7 747.4L1114 736.9L1120.9 728.5L1132.9 714.1L1137.4 709.6L1151.8 695.1L1154.3 690.6L1155.1 687.3L1151.8 690.6L1144.5 690.6L1132.9 702.3L1126.8 709.6L1114 725.2L1111.5 728.5ZM1377 747.4L1378.6 747.4L1397.5 747.4L1416.4 747.4L1435.3 747.4L1446.3 747.4L1447.5 728.5L1454.2 725.6L1473.1 714.2L1492 710.5L1510.9 722.3L1520.9 728.5L1521.8 747.4L1529.8 747.4L1548.7 747.4L1567.6 747.4L1572.3 747.4L1575.8 728.5L1567.6 709.6L1567.6 709.6L1548.7 691.4L1541.4 690.6L1529.8 690.5L1510.9 690.4L1508.7 690.6L1492 695.2L1473.1 699.7L1454.2 698.8L1435.3 703.6L1427 709.6L1416.4 723.7L1407.3 728.5L1397.5 739.8L1378.6 746.6ZM1359.7 633.9L1354.2 639.4L1359.7 638.2L1374.7 633.9Z" fill="#19a4e2" stroke="#19a4e2" stroke-width="0.6" stroke-linejoin="round"/>
<path d="M1088.1 747.4L1095.1 747.4L1096.7 747.4L1111.5 728.5L1114 725.2L1126.8 709.6L1132.9 702.3L1144.5 690.6L1132.9 690.6L1132.4 690.6L1116.7 709.6L1114 712.9L1102.2 728.5L1095.1 737.7ZM1446.3 747.4L1454.2 747.4L1473.1 747.4L1492 747.4L1510.9 747.4L1521.8 747.4L1520.9 728.5L1510.9 722.3L1492 710.5L1473.1 714.2L1454.2 725.6L1447.5 728.5Z" fill="#0eb0d6" stroke="#0eb0d6" stroke-width="0.6" stroke-linejoin="round"/>
<path d="M1079.6 747.4L1088.1 747.4L1095.1 737.7L1102.2 728.5L1114 712.9L1116.7 709.6L1132.4 690.6L1121.6 690.6L1114 699.9L1107.3 709.6L1095.1 725.7L1093.1 728.5Z" fill="#09bac6" stroke="#09bac6" stroke-width="0.6" stroke-linejoin="round"/>
<path d="M1076.2 747.4L1079.6 747.4L1093.1 728.5L1095.1 725.7L1107.3 709.6L1114 699.9L1121.6 690.6L1114 690.6L1111.1 690.6L1098.1 709.6L1095.1 713.5L1084.2 728.5L1076.2 739.8Z" fill="#1fc3b1" stroke="#1fc3b1" stroke-width="0.6" stroke-linejoin="round"/>
<path d="M1076.2 728.5L1076.2 739.8L1084.2 728.5L1095.1 713.5L1098.1 709.6L1111.1 690.6L1101.5 690.6L1095.1 700L1089 709.6L1076.2 727.2Z" fill="#38c89b" stroke="#38c89b" stroke-width="0.6" stroke-linejoin="round"/>
<path d="M1076.2 714.6L1076.2 727.2L1089 709.6L1095.1 700L1101.5 690.6L1095.1 690.6L1092 690.6L1079.9 709.6Z" fill="#55cb83" stroke="#55cb83" stroke-width="0.6" stroke-linejoin="round"/>
<path d="M1076.2 709.6L1076.2 714.6L1079.9 709.6L1092 690.6L1082.7 690.6L1076.2 700.9Z" fill="#7acb69" stroke="#7acb69" stroke-width="0.6" stroke-linejoin="round"/>
<path d="M1076.2 690.6L1076.2 700.9L1082.7 690.6Z" fill="#9dc64e" stroke="#9dc64e" stroke-width="0.6" stroke-linejoin="round"/>
<path d="M1265.2 712.5L1258 709.6L1265.2 707.1L1283.1 709.6L1265.2 712.5M1340.8 693.3L1329.9 690.6L1340.8 688.5L1359.1 690.6L1340.8 693.3M1416.4 673.5L1406.5 671.7L1416.4 669.6L1419.4 671.7L1416.4 673.5M1454.2 653.6L1452 652.8L1454.2 651.8L1473.1 651.1L1482.3 652.8L1473.1 654.3L1454.2 653.6M1548.7 636L1539.3 633.9L1548.7 631.7L1567.6 632.8L1576.1 633.9L1567.6 634.7L1548.7 636M1182.4 747.4L1189.6 741.3L1204.8 728.5L1208.5 724.6L1227.1 709.6L1227.4 709.3L1246.3 698.4L1265.2 696.1L1284.1 692.8L1292.1 690.6L1303 689.3L1321.9 684.7L1340.8 681.8L1359.7 680.1L1378.6 672.8L1379.2 671.7L1397.5 666.8L1416.4 662.2L1429.9 671.7L1416.4 679.8L1397.5 683.7L1387.4 690.6L1378.6 693.5L1359.7 698L1340.8 701.8L1322.1 709.6L1321.9 709.6L1303 716.8L1284.1 721.6L1265.2 725.4L1246.3 728.5L1246.3 728.5L1230.6 747.4M1454.2 659.1L1436.1 652.8L1454.2 645L1473.1 645L1492 645L1508.6 652.8L1492 657L1473.1 659.6L1454.2 659.1M1699.9 658.1L1697.8 652.8L1681 633.9L1662.1 633.9L1643.2 634.9L1639.6 633.9L1643.2 626.5L1656.9 615L1662.1 614.3L1664.7 615L1681 633.9L1699.9 615.3M1529.8 641.8L1515.6 633.9L1529.8 630L1548.7 625.5L1567.6 624.2L1586.5 621.5L1605.4 619.4L1612.9 633.9L1605.4 636L1586.5 640.3L1567.6 641.5L1548.7 642.2L1529.8 641.8M1163.5 747.4L1170.7 738.8L1182.7 728.5L1189.6 721.3L1200.7 709.6L1208.5 700.2L1221.3 690.6L1227.4 684.1L1235.3 671.7M1699.9 727.5L1693 709.6L1688.9 690.6L1686.1 671.7L1681 663.2L1667.1 652.8L1662.1 650.7L1643.2 648.2L1624.3 643.7L1605.4 645.8L1586.5 647.9L1567.6 648.4L1548.7 648.4L1532.1 652.8L1529.8 653.4L1510.9 658.2L1492 662.9L1473.1 664.8L1454.2 664.7L1440.6 671.7L1435.3 674.5L1416.4 686.1L1405.8 690.6L1397.5 694.8L1378.6 700.9L1359.7 705.5L1343.2 709.6L1340.8 710.3L1321.9 718.6L1303.4 728.5L1303 728.7L1284.1 732.7L1265.2 739.2L1253.3 747.4M1249.3 668.8L1250.7 671.7L1265.2 686.2L1284.1 683.4L1303 681.5L1321.9 677.1L1340.8 675L1354.1 671.7L1359.7 670.3L1378.6 665.4L1397.5 660.3L1416.4 654.8L1420.6 652.8L1435.3 647.1L1454.2 638.3L1473.1 638.8L1492 634L1492.2 633.9L1510.9 629.1L1529.8 624L1548.7 619.3L1567.6 615.6L1569.8 615L1586.5 610.1L1605.4 607.4L1624.3 608.1L1643.2 604.7L1662.1 600.5L1681 598.7L1694.4 596L1699.9 595.5M1149.1 747.4L1151.8 744.2L1165.5 728.5L1170.7 720.3L1181 709.6L1189.6 698.8L1196.4 690.6L1208.5 675.8L1212.4 671.7M1682.4 747.4L1681 743.6L1675.9 728.5L1670 709.6L1667.7 690.6L1662.9 671.7L1662.1 671L1643.2 663.1L1624.3 657.4L1605.4 655.7L1586.5 655.8L1567.6 655.3L1548.7 654.8L1529.8 659.5L1510.9 664.3L1492 668.8L1473.1 670.1L1454.2 670.2L1451.3 671.7L1435.3 680.3L1418.9 690.6L1416.4 692.4L1397.5 702.2L1378.6 708.3L1373.5 709.6L1359.7 712.9L1340.8 719.1L1321.9 727.5L1320.1 728.5L1303 736.8L1284.1 742.6L1274 747.4M1255.2 662.9L1259.6 671.7L1265.2 677.4L1284.1 675.1L1303 673.7L1311.7 671.7L1321.9 669.5L1340.8 668.3L1359.7 663.6L1378.6 659L1397.5 653.8L1400.8 652.8L1416.4 647.9L1435.3 641L1449.8 633.9L1454.2 632.2L1473.1 632.7L1492 627.8L1510.9 623L1529.8 618L1541.6 615L1548.7 613.4L1567.6 609L1586.5 601.5L1605.4 599.4L1624.3 598.1L1632.4 596L1643.2 593.4L1662.1 589.2L1681 589.5L1699.9 584.2M1136.8 747.4L1151.8 730L1153.1 728.5L1166.7 709.6L1170.7 698.8L1177.3 690.6L1189.6 672.8L1190.5 671.7M1659.3 747.4L1653.9 728.5L1650.9 709.6L1648.4 690.6L1643.2 683.5L1630.3 671.7L1624.3 669.2L1605.4 665.8L1586.5 664.1L1567.6 662.5L1548.7 661.5L1529.8 665.5L1510.9 670.3L1504.9 671.7L1492 674.7L1473.1 676.3L1454.2 676L1435.3 686L1427.9 690.6L1416.4 698.7L1397.7 709.6L1397.5 709.7L1378.6 715.3L1359.7 720.1L1340.8 728L1339.8 728.5L1321.9 737.2L1303 745L1296.1 747.4M1261.1 656.9L1265.2 665.3L1284.1 664.2L1303 664L1321.9 661.9L1340.8 661.5L1359.7 656.9L1377.3 652.8L1378.6 652.5L1397.5 647.1L1416.4 641.1L1435.3 635L1437.5 633.9L1454.2 627.6L1473.1 626.6L1492 621.7L1510.9 616.9L1518.3 615L1529.8 612L1548.7 608.3L1567.6 602.6L1581.5 596M1611.8 589.7L1624.3 588.3L1643.2 583.3L1662.1 579.1L1681 582.1L1693.1 577.1L1699.9 573.3M1125.6 747.4L1132.9 738.3L1141.5 728.5L1151.8 718L1158 709.6L1166.7 690.6L1170.7 674.2L1172.5 671.7M1635.7 747.4L1632.6 728.5L1631.4 709.6L1626.6 690.6L1624.3 688.5L1605.4 679.4L1586.5 673L1582.4 671.7L1567.6 669.7L1548.7 668.2L1529.8 671.6L1529.4 671.7L1510.9 676.9L1492 680.6L1473.1 682.9L1454.2 682L1437.5 690.6L1435.3 691.7L1416.4 705L1408.5 709.6L1397.5 717.1L1378.6 722.2L1359.7 727.3L1356.9 728.5L1340.8 738.8L1321.9 747L1320.8 747.4M1293.6 652.8L1303 653.8L1321.9 654.3L1340.8 654.8L1349.1 652.8L1359.7 650.5L1378.6 645.9L1397.5 640.3L1416.4 634.3L1417.7 633.9L1435.3 620L1454.2 622.9L1473.1 620.5L1492 615.6L1494.6 615M1516.6 609.3L1529.8 605.9L1548.7 603.2L1567.6 596.1L1567.8 596M1622.6 578.8L1624.3 578.6L1629.7 577.1M1688.4 569.7L1699.9 563.2M1114.9 747.4L1130.4 728.5L1132.9 725.5L1148.6 709.6L1151.8 706.4L1160.5 690.6L1163.3 679.1M1609.1 747.4L1608.2 728.5L1606.4 709.6L1605.4 708L1590.2 690.6L1586.5 689.1L1567.6 683L1548.7 677.9L1529.8 681L1510.9 683.6L1492 686.6L1473.1 689.4L1454.2 688L1449 690.6L1435.3 697.7L1418.7 709.6L1416.4 712.6L1397.5 724.5L1381.4 728.5L1378.6 730L1359.7 740.3L1346.4 747.4M1346.3 647.3L1359.7 644.3L1378.6 639.3L1396.2 633.9M1444.8 615L1454.2 618.2L1470.8 615M1524.8 601L1529.8 599.7L1548.7 598.1L1554.2 596M1105.7 747.4L1114 736.9L1120.9 728.5L1132.9 714.1L1137.4 709.6L1151.8 695.1L1154.3 690.6L1155.1 687.3M1572.3 747.4L1575.8 728.5L1567.6 709.6L1567.6 709.6L1548.7 691.4L1541.4 690.6L1529.8 690.5L1510.9 690.4L1508.7 690.6L1492 695.2L1473.1 699.7L1454.2 698.8L1435.3 703.6L1427 709.6L1416.4 723.7L1407.3 728.5L1397.5 739.8L1378.6 746.6L1377 747.4M1354.2 639.4L1359.7 638.2L1374.7 633.9M1096.7 747.4L1111.5 728.5L1114 725.2L1126.8 709.6L1132.9 702.3L1144.5 690.6M1521.8 747.4L1520.9 728.5L1510.9 722.3L1492 710.5L1473.1 714.2L1454.2 725.6L1447.5 728.5L1446.3 747.4M1088.1 747.4L1095.1 737.7L1102.2 728.5L1114 712.9L1116.7 709.6L1132.4 690.6M1079.6 747.4L1093.1 728.5L1095.1 725.7L1107.3 709.6L1114 699.9L1121.6 690.6M1076.2 739.8L1084.2 728.5L1095.1 713.5L1098.1 709.6L1111.1 690.6M1076.2 727.2L1089 709.6L1095.1 700L1101.5 690.6M1076.2 714.6L1079.9 709.6L1092 690.6M1076.2 700.9L1082.7 690.6" fill="none" stroke="#1a1a1a" stroke-width="0.75" stroke-linejoin="round"/>
<path d="M1076.2 681.18L1699.9 558.2" stroke="#000" stroke-width="2.6" stroke-linecap="round"/>
<path d="M1057.2 529.8V766.5H1718.7" fill="none" stroke="#7a7a7a" stroke-width="1.3"/>
<path d="M1076.2 766.5v-7.2 M1170.7 766.5v-7.2 M1265.2 766.5v-7.2 M1359.7 766.5v-7.2 M1454.2 766.5v-7.2 M1548.7 766.5v-7.2 M1643.2 766.5v-7.2 M1057.2 747.4h7.2 M1057.2 652.8h7.2 M1057.2 558.2h7.2" stroke="#7a7a7a" stroke-width="1.3"/>
<text x="1076.2" y="803.1" text-anchor="middle" font-size="27.7">0</text>
<text x="1170.7" y="803.1" text-anchor="middle" font-size="27.7">0.05</text>
<text x="1265.2" y="803.1" text-anchor="middle" font-size="27.7">0.1</text>
<text x="1359.7" y="803.1" text-anchor="middle" font-size="27.7">0.15</text>
<text x="1454.2" y="803.1" text-anchor="middle" font-size="27.7">0.2</text>
<text x="1548.7" y="803.1" text-anchor="middle" font-size="27.7">0.25</text>
<text x="1643.2" y="803.1" text-anchor="middle" font-size="27.7">0.3</text>
<text x="1049.8" y="758.4" text-anchor="end" font-size="27.7">0</text>
<text x="1049.8" y="663.8" text-anchor="end" font-size="27.7">0.05</text>
<text x="1049.8" y="569.2" text-anchor="end" font-size="27.7">0.1</text>
<text x="1387.95" y="841.5" text-anchor="middle" font-size="30.5" clip-path="url(#clipx1R)">Axial Position (m)</text>
<text transform="translate(984,647.2) rotate(-90)" text-anchor="middle" font-size="30.5">Radial Position (m)</text>
<text x="1400" y="912.5" text-anchor="middle" font-family="'Liberation Serif', 'Times New Roman', serif" font-size="48.5" fill="#000">(d)</text>
<rect x="1729.3" y="531.3" width="19.3" height="236.3" fill="url(#parula)" stroke="#4a4a4a" stroke-width="0.8"/>
<text x="1757" y="711.48" font-size="24.0">50</text>
<text x="1757" y="644.73" font-size="24.0">100</text>
<text x="1757" y="577.98" font-size="24.0">150</text>
<path d="M1748.6 702.58h-1.8 M1748.6 635.83h-1.8 M1748.6 569.08h-1.8" stroke="#333" stroke-width="1"/>
<text transform="translate(1827.4,649.45) rotate(-90)" text-anchor="middle" font-size="24.9">Field Strength (G)</text>
<path d="M140.4 715.7L216.4 689.6M166.8 748.3C180.9 742.1 195.4 735.7 209.2 729.6C222.3 723.8 235 718 247.6 712.6C259.8 707.4 271.4 702.4 283.7 697.5C296.5 692.5 309.2 687.8 323.1 683C338.6 677.7 355.1 672.5 372.3 667.2C391.1 661.3 411.8 655.5 431.5 649.6M195.1 726.6L213 728.5L202.4 743M343.7 665.3L361.3 669.1L349.2 682.4M241.3 747.2C251.9 739 263.1 730 273.2 722.5C282 716 290.5 709.9 298.4 704.8C305.1 700.5 311.3 696.9 317.6 693.5C323.4 690.3 328.9 687.6 334.5 684.7M320.5 748.3C315.1 742.2 306 736 304.3 730C303 725.6 304.3 721.2 306.5 717C309.2 711.7 315.8 706.5 321.6 702C327.9 697.1 334.5 693.5 343.1 689C354.9 682.8 371 675.2 386.3 669.6C402.7 663.6 421.1 659.5 438.5 654.5M421.8 749.4C406.4 746.5 389.4 744.4 375.5 740.8C363.6 737.7 351.4 735.1 343.1 730C336.5 725.9 328.7 720.1 328 714.9C327.4 710.5 333.1 705.9 335.6 701.4M577 749.3C544.7 745.7 502.9 741.4 480 738.5C467.4 736.9 461.9 736 450.9 734.3C436.3 732.1 415.4 729.5 400.3 726.2C387.9 723.5 373.4 722.6 366.8 717C362.3 713.2 359.4 706.8 359.8 701.9C360.2 696.7 365.1 690.9 370.1 686.8C376.4 681.6 387.7 679.3 396.5 675.5M413.6 738.3L400.3 726.2L417.4 720.7M800.5 738.3C782.9 740.6 765.4 743.9 747.7 745.3C729.9 746.7 711.8 747.4 693.9 746.9C675.9 746.4 655.4 743.4 640 742C628.4 740.9 621.5 740.3 609.4 739.1C591.8 737.4 566.3 734.7 544.7 732.6C523.1 730.5 500.2 729.1 480 726.7C462.1 724.6 444.3 722.5 429.4 719.2C417.3 716.5 404.5 714.2 397 709.5C391.9 706.2 386.8 701.8 386.3 697.6C385.9 693.7 391 689.3 393.3 685.2M800.5 707.6C793.7 709.7 787.6 711.9 780 714C770.5 716.6 759.4 719.5 747.7 721.6C734 724 718.8 726.2 702.5 727C683.4 728 657.2 726.3 640 725.9C628 725.6 621.3 725.8 609.4 725.1C592.6 724 569.8 721.1 549 719.1C526.8 717 495.6 713.9 480 712.7C472 712.1 468.6 712.6 461.7 711.6C452.4 710.3 437.9 707.9 429.4 704.1C423.1 701.2 415.7 697.7 414.3 693.3C413.1 689.6 415.2 684.4 418.6 680.4C424.2 673.8 440.4 668.2 451 663.1C460.8 658.4 471.3 654.7 480 650.7C487.3 647.4 491.8 644 500 641C511.8 636.6 529.4 632.3 544.7 629.1C560.5 625.8 578 622.1 593.2 621.6C606.6 621.1 621.3 621.9 631 624.8C637.7 626.8 646 629.8 647.1 633.4C647.9 636.2 644.8 640.4 641.7 643.1C637.2 647 627.9 649.7 620.2 651.8C611.8 654.1 600.6 655.4 593.2 656.1C588.1 656.6 584.8 656.7 580.3 656.6C575.2 656.4 568.1 656.9 564.1 655C561.1 653.6 557.4 650.6 557.6 648.5C557.8 646.2 562.5 643.7 566.3 642C571.7 639.6 581.3 637.6 587.8 637.7C593.3 637.7 601.6 638.9 602.9 641C603.6 642.1 603 644.2 601.8 645.3C599.7 647.3 592.2 647.5 587.8 648C584 648.5 579.5 649.4 577 648.5C575.3 647.9 574.5 646.4 573.3 645.3M718.5 735.2L702.5 727L717.6 717.2M563.7 729.5L549 719.1L565.4 711.6M595.6 666.1L580.3 656.6L596.2 648.1M800.5 675.3C793.7 678.9 787.8 682.7 780 686C770.6 690 759.9 693.5 747.7 696.8C732.2 700.9 711.9 705.5 693.9 707.6C676 709.7 655.4 709.3 640 709.7C628.4 710 621.5 710.3 609.4 710C591.8 709.5 566.2 707.8 544.7 705.7C523.1 703.6 491 699.1 480 697.6C476.3 697.1 475.6 697.2 472.5 696.5C467.1 695.3 455.8 693.4 451 690.1C447.7 687.8 444.5 684.5 444.5 681.5C444.5 678.1 450.2 674.3 453.1 670.7M723 577.2C733 578.1 743.5 577.8 753.1 580C762.5 582.2 772.5 585.2 780 590.2C787 594.9 794.4 601.8 797.3 608.5C799.8 614.2 800.2 620.6 798.4 626.8C796 634.9 787.9 644.6 780 651.6C771.3 659.3 759.5 664.5 747.7 669.9C734.6 675.8 720.6 681.1 704.6 685C685.4 689.7 657.6 692.6 640 694.1C628 695.1 621.5 695 609.4 694.9C591.8 694.7 564 693.5 544.7 691.6C528.8 690 512.2 689 501.6 685.2C494.6 682.7 487.3 679.3 485.4 675.5C484.1 672.9 484.7 669.9 486.5 666.8C489.9 660.9 502.8 652.7 512.3 647.4C522.2 641.9 533.9 638.8 544.7 634.5M724 589.1C731.9 591.6 741 593.5 747.7 596.6C753.2 599.1 759.1 601.7 761.7 605.2C763.6 607.8 763.9 610.4 763.9 613.9C763.9 619.5 762.4 629.1 758.5 635.4C754.1 642.6 745.5 648.7 737 653.7C727.3 659.4 715.9 662.9 702.5 666.6C684.9 671.4 655 676.4 640 678C631.6 678.9 628.4 678.5 620.2 678.7C606.6 679.1 582.6 681 566.3 679.8C552.5 678.8 537.1 677.5 528.5 673.3C522.9 670.6 517.3 666.3 516.7 662.5C516.2 659.1 519.6 655 523.1 651.8C528.4 647 540 643.9 548.5 639.9M759.7 587.3L761.7 605.2L745.2 598M719.9 671.1L702.5 666.6L715.1 653.8M624.3 595.1C629.5 594.9 633.5 594.5 640 594.5C650.8 594.6 669.9 594.5 683.1 596.6C694.7 598.4 706.8 600.2 715.4 605.2C722.7 609.4 731.2 616.2 732.6 622.5C733.9 628.1 730.2 635.7 726.2 640.8C721.5 646.7 712.9 651.3 704.6 654.8C695.2 658.8 683 660.5 672.3 662.5C662 664.4 652.8 665.3 641.7 666.8C628.6 668.5 613 671.5 598.6 672.2C584.3 672.9 567.6 673 555.5 671.2C546.3 669.9 535.7 668.5 531.8 664.7C529.4 662.4 529.9 659 529 656.1" fill="none" stroke="#ff0000" stroke-width="2.6" stroke-linecap="round" stroke-linejoin="round"/>
<path d="M138.3 679.18L802.26 548.4" stroke="#000" stroke-width="2.6" stroke-linecap="round"/>
<path d="M117.5 518.2V770.4H822.6" fill="none" stroke="#7a7a7a" stroke-width="1.3"/>
<path d="M138.3 770.4v-7.2 M238.9 770.4v-7.2 M339.5 770.4v-7.2 M440.1 770.4v-7.2 M540.7 770.4v-7.2 M641.3 770.4v-7.2 M741.9 770.4v-7.2 M117.5 749.6h7.2 M117.5 649h7.2 M117.5 548.4h7.2" stroke="#7a7a7a" stroke-width="1.3"/>
<text x="138.3" y="807" text-anchor="middle" font-size="27.7">0</text>
<text x="238.9" y="807" text-anchor="middle" font-size="27.7">0.05</text>
<text x="339.5" y="807" text-anchor="middle" font-size="27.7">0.1</text>
<text x="440.1" y="807" text-anchor="middle" font-size="27.7">0.15</text>
<text x="540.7" y="807" text-anchor="middle" font-size="27.7">0.2</text>
<text x="641.3" y="807" text-anchor="middle" font-size="27.7">0.25</text>
<text x="741.9" y="807" text-anchor="middle" font-size="27.7">0.3</text>
<text x="110.1" y="760.6" text-anchor="end" font-size="27.7">0</text>
<text x="110.1" y="660" text-anchor="end" font-size="27.7">0.05</text>
<text x="110.1" y="559.4" text-anchor="end" font-size="27.7">0.1</text>
<text x="470.05" y="845.4" text-anchor="middle" font-size="30.5" clip-path="url(#clipx1L)">Axial Position (m)</text>
<text transform="translate(45,643.7) rotate(-90)" text-anchor="middle" font-size="30.5">Radial Position (m)</text>
<text x="454.3" y="912.5" text-anchor="middle" font-family="'Liberation Serif', 'Times New Roman', serif" font-size="48.5" fill="#000">(c)</text>
</g>
<g id="row2">
<path d="M1316.6 1214.6L1321.9 1214.6L1340.8 1214.6L1359.7 1214.6L1378.6 1214.6L1397.5 1214.6L1416.4 1214.6L1435.3 1214.6L1454.2 1214.6L1456.8 1214.6L1465.5 1195.7L1473.1 1182L1474.8 1176.8L1473.1 1157.8L1473.1 1157.8L1454.2 1155.9L1435.3 1151.3L1416.4 1156.1L1410.2 1157.8L1397.5 1162.8L1378.6 1166.9L1366.4 1176.8L1359.7 1188.8L1340.8 1194.1L1337.2 1195.7L1321.9 1209.6ZM1565.7 1101.1L1567.6 1102L1586.5 1104.4L1605.4 1105.8L1624.3 1106.9L1643.2 1107.8L1662.1 1107.8L1681 1108.6L1699.9 1108.6L1699.9 1101.1L1699.9 1082.2L1699.9 1076.1L1681 1079.5L1662.1 1080.3L1643.2 1081.7L1639.4 1082.2L1624.3 1088.5L1605.4 1093L1586.5 1099.3L1567.6 1100.6Z" fill="#4231c4" stroke="#4231c4" stroke-width="0.6" stroke-linejoin="round"/>
<path d="M1269.8 1214.6L1284.1 1214.6L1303 1214.6L1316.6 1214.6L1321.9 1209.6L1337.2 1195.7L1340.8 1194.1L1359.7 1188.8L1366.4 1176.8L1378.6 1166.9L1397.5 1162.8L1410.2 1157.8L1416.4 1156.1L1435.3 1151.3L1454.2 1155.9L1473.1 1157.8L1473.1 1157.8L1474.8 1176.8L1473.1 1182L1465.5 1195.7L1456.8 1214.6L1473.1 1214.6L1492 1214.6L1510.9 1214.6L1512 1214.6L1512.2 1195.7L1512.2 1176.8L1512.3 1157.8L1510.9 1138.9L1529.8 1120L1529.8 1120L1548.7 1120L1567.6 1120L1567.6 1120L1586.5 1120.9L1605.4 1121.4L1624.3 1121L1643.2 1121L1662.1 1121.5L1681 1121.8L1699.9 1121.7L1699.9 1120L1699.9 1108.6L1681 1108.6L1662.1 1107.8L1643.2 1107.8L1624.3 1106.9L1605.4 1105.8L1586.5 1104.4L1567.6 1102L1565.7 1101.1L1567.6 1100.6L1586.5 1099.3L1605.4 1093L1624.3 1088.5L1639.4 1082.2L1643.2 1081.7L1662.1 1080.3L1681 1079.5L1699.9 1076.1L1699.9 1063.2L1699.9 1061.6L1696.7 1063.2L1681 1070.4L1662.1 1071.2L1643.2 1072.3L1624.3 1074.5L1605.4 1079.2L1597.8 1082.2L1586.5 1090.3L1567.6 1091.4L1548.7 1094.7L1529.8 1100.7L1528.6 1101.1L1510.9 1120L1492 1118.7L1478.1 1120L1473.1 1120.7L1454.2 1128.1L1435.3 1123.4L1416.4 1132.3L1402 1138.9L1397.5 1140.9L1378.6 1147.1L1360.9 1157.8L1359.7 1158.7L1340.8 1167.1L1321.9 1173.7L1314.2 1176.8L1303 1183.4L1284.1 1195.7L1284.1 1195.7Z" fill="#463cdc" stroke="#463cdc" stroke-width="0.6" stroke-linejoin="round"/>
<path d="M1241.4 1214.6L1246.3 1214.6L1265.2 1214.6L1269.8 1214.6L1284.1 1195.7L1284.1 1195.7L1303 1183.4L1314.2 1176.8L1321.9 1173.7L1340.8 1167.1L1359.7 1158.7L1360.9 1157.8L1378.6 1147.1L1397.5 1140.9L1402 1138.9L1416.4 1132.3L1435.3 1123.4L1454.2 1128.1L1473.1 1120.7L1478.1 1120L1492 1118.7L1510.9 1120L1528.6 1101.1L1529.8 1100.7L1548.7 1094.7L1567.6 1091.4L1586.5 1090.3L1597.8 1082.2L1605.4 1079.2L1624.3 1074.5L1643.2 1072.3L1662.1 1071.2L1681 1070.4L1696.7 1063.2L1699.9 1061.6L1699.9 1051.3L1681 1061.4L1662.1 1062.1L1643.2 1063L1640.7 1063.2L1624.3 1064.8L1605.4 1074.2L1586.5 1081.3L1569.1 1082.2L1567.6 1082.2L1548.7 1083L1529.8 1088.3L1510.9 1095.1L1492 1098.5L1473.1 1100.9L1471.9 1101.1L1454.2 1104.4L1435.3 1106.9L1416.4 1115.3L1400.8 1120L1397.5 1121.7L1378.6 1127.7L1359.7 1133.8L1352.1 1138.9L1340.8 1145.4L1321.9 1150L1303 1154.3L1289.1 1157.8L1284.1 1159.4L1265.2 1173.4L1263.4 1176.8L1252 1195.7L1246.3 1205.1ZM1512 1214.6L1529.8 1214.6L1548.7 1214.6L1555.1 1214.6L1549 1195.7L1548.7 1194.7L1544 1176.8L1548.7 1158.5L1548.9 1157.8L1567.6 1146.3L1584.8 1138.9L1586.5 1138.4L1605.4 1135.7L1624.3 1130.6L1643.2 1130.8L1662.1 1136.1L1678.4 1138.9L1681 1139.6L1693.3 1138.9L1699.9 1138.6L1699.9 1121.7L1681 1121.8L1662.1 1121.5L1643.2 1121L1624.3 1121L1605.4 1121.4L1586.5 1120.9L1567.6 1120L1567.6 1120L1548.7 1120L1529.8 1120L1529.8 1120L1510.9 1138.9L1512.3 1157.8L1512.2 1176.8L1512.2 1195.7Z" fill="#4747ea" stroke="#4747ea" stroke-width="0.6" stroke-linejoin="round"/>
<path d="M1217.5 1214.6L1227.4 1214.6L1241.4 1214.6L1246.3 1205.1L1252 1195.7L1263.4 1176.8L1265.2 1173.4L1284.1 1159.4L1289.1 1157.8L1303 1154.3L1321.9 1150L1340.8 1145.4L1352.1 1138.9L1359.7 1133.8L1378.6 1127.7L1397.5 1121.7L1400.8 1120L1416.4 1115.3L1435.3 1106.9L1454.2 1104.4L1471.9 1101.1L1473.1 1100.9L1492 1098.5L1510.9 1095.1L1529.8 1088.3L1548.7 1083L1567.6 1082.2L1569.1 1082.2L1586.5 1081.3L1605.4 1074.2L1624.3 1064.8L1640.7 1063.2L1643.2 1063L1662.1 1062.1L1681 1061.4L1699.9 1051.3L1699.9 1044.3L1699.9 1040.9L1694.9 1044.3L1681 1052.4L1662.1 1053L1643.2 1053.7L1624.3 1055.8L1616.6 1063.2L1605.4 1069.2L1586.5 1072.2L1567.6 1073L1548.7 1073.7L1529.8 1076.6L1514 1082.2L1510.9 1083.3L1492 1083.6L1473.1 1085.7L1454.2 1087.8L1435.3 1090.6L1421 1101.1L1416.4 1103.4L1397.5 1101.7L1378.6 1105.2L1359.7 1108.6L1350.2 1110.5L1340.8 1120L1321.9 1120L1303 1120L1303 1120L1303 1120L1284.1 1120L1279.4 1120L1265.2 1131.1L1261.6 1138.9L1252.3 1157.8L1246.3 1167.8L1240.5 1176.8L1230.6 1195.7L1227.4 1200.9ZM1555.1 1214.6L1567.6 1214.6L1586.5 1214.6L1598.3 1214.6L1592.7 1195.7L1586.5 1181.7L1585 1176.8L1586.5 1170L1592 1157.8L1605.4 1154.8L1624.3 1144.8L1643.2 1145.8L1662.1 1155L1671.9 1157.8L1681 1174.7L1681.5 1176.8L1681 1179L1672.6 1195.7L1663.1 1214.6L1681 1214.6L1699.9 1214.6L1699.9 1195.7L1699.9 1176.8L1699.9 1157.8L1699.9 1138.9L1699.9 1138.6L1693.3 1138.9L1681 1139.6L1678.4 1138.9L1662.1 1136.1L1643.2 1130.8L1624.3 1130.6L1605.4 1135.7L1586.5 1138.4L1584.8 1138.9L1567.6 1146.3L1548.9 1157.8L1548.7 1158.5L1544 1176.8L1548.7 1194.7L1549 1195.7Z" fill="#4656f5" stroke="#4656f5" stroke-width="0.6" stroke-linejoin="round"/>
<path d="M1196 1214.6L1208.5 1214.6L1217.5 1214.6L1227.4 1200.9L1230.6 1195.7L1240.5 1176.8L1246.3 1167.8L1252.3 1157.8L1261.6 1138.9L1265.2 1131.1L1279.4 1120L1265.2 1120L1246.3 1138.9L1243.6 1138.9L1227.4 1155.4L1224.9 1157.8L1216.7 1176.8L1208.7 1195.7L1208.5 1196ZM1598.3 1214.6L1605.4 1214.6L1624.3 1214.6L1643.2 1214.6L1662.1 1214.6L1663.1 1214.6L1672.6 1195.7L1681 1179L1681.5 1176.8L1681 1174.7L1671.9 1157.8L1662.1 1155L1643.2 1145.8L1624.3 1144.8L1605.4 1154.8L1592 1157.8L1586.5 1170L1585 1176.8L1586.5 1181.7L1592.7 1195.7ZM1303 1120L1303 1120L1303 1120L1303 1120ZM1359.7 1101.1L1350.2 1110.5L1359.7 1108.6L1378.6 1105.2L1397.5 1101.7L1416.4 1103.4L1421 1101.1L1435.3 1090.6L1454.2 1087.8L1473.1 1085.7L1492 1083.6L1510.9 1083.3L1514 1082.2L1529.8 1076.6L1548.7 1073.7L1567.6 1073L1586.5 1072.2L1605.4 1069.2L1616.6 1063.2L1624.3 1055.8L1643.2 1053.7L1662.1 1053L1681 1052.4L1694.9 1044.3L1699.9 1040.9L1699.9 1030.6L1684.2 1041.2L1681 1044.3L1662.1 1044.3L1643.2 1044.3L1643.2 1044.3L1624.3 1047L1607.3 1063.2L1605.4 1064.2L1586.5 1063.2L1586.5 1063.2L1586.5 1063.2L1567.6 1063.9L1548.7 1064.5L1529.8 1065.5L1526.4 1066.7L1510.9 1082.2L1492 1082.2L1473.1 1082.2L1454.2 1082.2L1435.3 1082.2L1416.4 1101.1L1397.5 1101.1L1378.6 1101.1Z" fill="#4367fd" stroke="#4367fd" stroke-width="0.6" stroke-linejoin="round"/>
<path d="M1177.1 1214.6L1189.6 1214.6L1196 1214.6L1208.5 1196L1208.7 1195.7L1216.7 1176.8L1224.9 1157.8L1227.4 1155.4L1243.6 1138.9L1227.4 1138.9L1216.4 1138.9L1208.5 1146.5L1197.4 1157.8L1189.6 1171.3L1187 1176.8L1180.6 1195.7ZM1529.8 1063.2L1526.4 1066.7L1529.8 1065.5L1548.7 1064.5L1567.6 1063.9L1586.5 1063.2L1567.6 1063.2L1548.7 1063.2ZM1586.5 1063.2L1605.4 1064.2L1607.3 1063.2L1624.3 1047L1643.2 1044.3L1624.3 1044.3L1605.4 1063.2ZM1699.9 1025.4L1684.2 1041.2L1699.9 1030.6Z" fill="#3876fb" stroke="#3876fb" stroke-width="0.6" stroke-linejoin="round"/>
<path d="M1162 1214.6L1170.7 1214.6L1177.1 1214.6L1180.6 1195.7L1187 1176.8L1189.6 1171.3L1197.4 1157.8L1208.5 1146.5L1216.4 1138.9L1208.5 1138.9L1190.5 1138.9L1189.6 1139.8L1176.8 1157.8L1170.7 1168.9L1167.6 1176.8L1164.1 1195.7Z" fill="#2e84f6" stroke="#2e84f6" stroke-width="0.6" stroke-linejoin="round"/>
<path d="M1148.7 1214.6L1151.8 1214.6L1162 1214.6L1164.1 1195.7L1167.6 1176.8L1170.7 1168.9L1176.8 1157.8L1189.6 1139.8L1190.5 1138.9L1189.6 1138.9L1170.7 1138.9L1165.8 1143.8L1160.5 1157.8L1154.2 1176.8L1151.8 1188.6L1150.5 1195.7Z" fill="#2993ed" stroke="#2993ed" stroke-width="0.6" stroke-linejoin="round"/>
<path d="M1135.7 1214.6L1148.7 1214.6L1150.5 1195.7L1151.8 1188.6L1154.2 1176.8L1160.5 1157.8L1165.8 1143.8L1151.8 1157.8L1145.4 1157.8L1141.3 1176.8L1138.3 1195.7Z" fill="#1f9fe5" stroke="#1f9fe5" stroke-width="0.6" stroke-linejoin="round"/>
<path d="M1122.5 1214.6L1132.9 1214.6L1135.7 1214.6L1138.3 1195.7L1141.3 1176.8L1145.4 1157.8L1132.9 1157.8L1130.6 1157.8L1127.7 1176.8L1124.9 1195.7Z" fill="#13aadd" stroke="#13aadd" stroke-width="0.6" stroke-linejoin="round"/>
<path d="M1110 1214.6L1114 1214.6L1122.5 1214.6L1124.9 1195.7L1127.7 1176.8L1130.6 1157.8L1115.1 1157.8L1114 1166.2L1113.1 1176.8L1111.5 1195.7Z" fill="#0bb3d1" stroke="#0bb3d1" stroke-width="0.6" stroke-linejoin="round"/>
<path d="M1099.2 1214.6L1110 1214.6L1111.5 1195.7L1113.1 1176.8L1114 1166.2L1115.1 1157.8L1114 1157.8L1104.3 1157.8L1102.6 1176.8L1100.9 1195.7Z" fill="#0ebcc2" stroke="#0ebcc2" stroke-width="0.6" stroke-linejoin="round"/>
<path d="M1089.8 1214.6L1095.1 1214.6L1099.2 1214.6L1100.9 1195.7L1102.6 1176.8L1104.3 1157.8L1095.1 1157.8L1094.2 1157.8L1092.8 1176.8L1091.3 1195.7Z" fill="#21c4af" stroke="#21c4af" stroke-width="0.6" stroke-linejoin="round"/>
<path d="M1081.3 1214.6L1089.8 1214.6L1091.3 1195.7L1092.8 1176.8L1094.2 1157.8L1086.4 1157.8L1084.6 1176.8L1082.9 1195.7Z" fill="#37c89c" stroke="#37c89c" stroke-width="0.6" stroke-linejoin="round"/>
<path d="M1076.2 1214.6L1081.3 1214.6L1082.9 1195.7L1084.6 1176.8L1086.4 1157.8L1078.5 1157.8L1076.5 1176.8L1076.2 1179.5L1076.2 1195.7Z" fill="#4ecb88" stroke="#4ecb88" stroke-width="0.6" stroke-linejoin="round"/>
<path d="M1076.2 1176.8L1076.2 1179.5L1076.5 1176.8L1078.5 1157.8L1076.2 1157.8Z" fill="#6ecb71" stroke="#6ecb71" stroke-width="0.6" stroke-linejoin="round"/>
<path d="M1316.6 1214.6L1321.9 1209.6L1337.2 1195.7L1340.8 1194.1L1359.7 1188.8L1366.4 1176.8L1378.6 1166.9L1397.5 1162.8L1410.2 1157.8L1416.4 1156.1L1435.3 1151.3L1454.2 1155.9L1473.1 1157.8L1473.1 1157.8L1474.8 1176.8L1473.1 1182L1465.5 1195.7L1456.8 1214.6M1699.9 1108.6L1681 1108.6L1662.1 1107.8L1643.2 1107.8L1624.3 1106.9L1605.4 1105.8L1586.5 1104.4L1567.6 1102L1565.7 1101.1L1567.6 1100.6L1586.5 1099.3L1605.4 1093L1624.3 1088.5L1639.4 1082.2L1643.2 1081.7L1662.1 1080.3L1681 1079.5L1699.9 1076.1M1269.8 1214.6L1284.1 1195.7L1284.1 1195.7L1303 1183.4L1314.2 1176.8L1321.9 1173.7L1340.8 1167.1L1359.7 1158.7L1360.9 1157.8L1378.6 1147.1L1397.5 1140.9L1402 1138.9L1416.4 1132.3L1435.3 1123.4L1454.2 1128.1L1473.1 1120.7L1478.1 1120L1492 1118.7L1510.9 1120L1528.6 1101.1L1529.8 1100.7L1548.7 1094.7L1567.6 1091.4L1586.5 1090.3L1597.8 1082.2L1605.4 1079.2L1624.3 1074.5L1643.2 1072.3L1662.1 1071.2L1681 1070.4L1696.7 1063.2L1699.9 1061.6M1699.9 1121.7L1681 1121.8L1662.1 1121.5L1643.2 1121L1624.3 1121L1605.4 1121.4L1586.5 1120.9L1567.6 1120L1567.6 1120L1548.7 1120L1529.8 1120L1529.8 1120L1510.9 1138.9L1512.3 1157.8L1512.2 1176.8L1512.2 1195.7L1512 1214.6M1241.4 1214.6L1246.3 1205.1L1252 1195.7L1263.4 1176.8L1265.2 1173.4L1284.1 1159.4L1289.1 1157.8L1303 1154.3L1321.9 1150L1340.8 1145.4L1352.1 1138.9L1359.7 1133.8L1378.6 1127.7L1397.5 1121.7L1400.8 1120L1416.4 1115.3L1435.3 1106.9L1454.2 1104.4L1471.9 1101.1L1473.1 1100.9L1492 1098.5L1510.9 1095.1L1529.8 1088.3L1548.7 1083L1567.6 1082.2L1569.1 1082.2L1586.5 1081.3L1605.4 1074.2L1624.3 1064.8L1640.7 1063.2L1643.2 1063L1662.1 1062.1L1681 1061.4L1699.9 1051.3M1699.9 1138.6L1693.3 1138.9L1681 1139.6L1678.4 1138.9L1662.1 1136.1L1643.2 1130.8L1624.3 1130.6L1605.4 1135.7L1586.5 1138.4L1584.8 1138.9L1567.6 1146.3L1548.9 1157.8L1548.7 1158.5L1544 1176.8L1548.7 1194.7L1549 1195.7L1555.1 1214.6M1217.5 1214.6L1227.4 1200.9L1230.6 1195.7L1240.5 1176.8L1246.3 1167.8L1252.3 1157.8L1261.6 1138.9L1265.2 1131.1L1279.4 1120M1663.1 1214.6L1672.6 1195.7L1681 1179L1681.5 1176.8L1681 1174.7L1671.9 1157.8L1662.1 1155L1643.2 1145.8L1624.3 1144.8L1605.4 1154.8L1592 1157.8L1586.5 1170L1585 1176.8L1586.5 1181.7L1592.7 1195.7L1598.3 1214.6M1303 1120L1303 1120L1303 1120M1350.2 1110.5L1359.7 1108.6L1378.6 1105.2L1397.5 1101.7L1416.4 1103.4L1421 1101.1L1435.3 1090.6L1454.2 1087.8L1473.1 1085.7L1492 1083.6L1510.9 1083.3L1514 1082.2L1529.8 1076.6L1548.7 1073.7L1567.6 1073L1586.5 1072.2L1605.4 1069.2L1616.6 1063.2L1624.3 1055.8L1643.2 1053.7L1662.1 1053L1681 1052.4L1694.9 1044.3L1699.9 1040.9M1196 1214.6L1208.5 1196L1208.7 1195.7L1216.7 1176.8L1224.9 1157.8L1227.4 1155.4L1243.6 1138.9M1526.4 1066.7L1529.8 1065.5L1548.7 1064.5L1567.6 1063.9L1586.5 1063.2M1586.5 1063.2L1605.4 1064.2L1607.3 1063.2L1624.3 1047L1643.2 1044.3M1684.2 1041.2L1699.9 1030.6M1177.1 1214.6L1180.6 1195.7L1187 1176.8L1189.6 1171.3L1197.4 1157.8L1208.5 1146.5L1216.4 1138.9M1162 1214.6L1164.1 1195.7L1167.6 1176.8L1170.7 1168.9L1176.8 1157.8L1189.6 1139.8L1190.5 1138.9M1148.7 1214.6L1150.5 1195.7L1151.8 1188.6L1154.2 1176.8L1160.5 1157.8L1165.8 1143.8M1135.7 1214.6L1138.3 1195.7L1141.3 1176.8L1145.4 1157.8M1122.5 1214.6L1124.9 1195.7L1127.7 1176.8L1130.6 1157.8M1110 1214.6L1111.5 1195.7L1113.1 1176.8L1114 1166.2L1115.1 1157.8M1099.2 1214.6L1100.9 1195.7L1102.6 1176.8L1104.3 1157.8M1089.8 1214.6L1091.3 1195.7L1092.8 1176.8L1094.2 1157.8M1081.3 1214.6L1082.9 1195.7L1084.6 1176.8L1086.4 1157.8M1076.2 1179.5L1076.5 1176.8L1078.5 1157.8" fill="none" stroke="#1a1a1a" stroke-width="0.75" stroke-linejoin="round"/>
<path d="M1076.2 1148.38L1699.9 1025.4" stroke="#000" stroke-width="2.6" stroke-linecap="round"/>
<path d="M1057.2 997V1233.7H1718.7" fill="none" stroke="#7a7a7a" stroke-width="1.3"/>
<path d="M1076.2 1233.7v-7.2 M1170.7 1233.7v-7.2 M1265.2 1233.7v-7.2 M1359.7 1233.7v-7.2 M1454.2 1233.7v-7.2 M1548.7 1233.7v-7.2 M1643.2 1233.7v-7.2 M1057.2 1214.6h7.2 M1057.2 1120h7.2 M1057.2 1025.4h7.2" stroke="#7a7a7a" stroke-width="1.3"/>
<text x="1076.2" y="1270.3" text-anchor="middle" font-size="27.7">0</text>
<text x="1170.7" y="1270.3" text-anchor="middle" font-size="27.7">0.05</text>
<text x="1265.2" y="1270.3" text-anchor="middle" font-size="27.7">0.1</text>
<text x="1359.7" y="1270.3" text-anchor="middle" font-size="27.7">0.15</text>
<text x="1454.2" y="1270.3" text-anchor="middle" font-size="27.7">0.2</text>
<text x="1548.7" y="1270.3" text-anchor="middle" font-size="27.7">0.25</text>
<text x="1643.2" y="1270.3" text-anchor="middle" font-size="27.7">0.3</text>
<text x="1049.8" y="1225.6" text-anchor="end" font-size="27.7">0</text>
<text x="1049.8" y="1131" text-anchor="end" font-size="27.7">0.05</text>
<text x="1049.8" y="1036.4" text-anchor="end" font-size="27.7">0.1</text>
<text x="1387.95" y="1308.7" text-anchor="middle" font-size="30.5" clip-path="url(#clipx2R)">Axial Position (m)</text>
<text transform="translate(984,1114.4) rotate(-90)" text-anchor="middle" font-size="30.5">Radial Position (m)</text>
<text x="1400" y="1379.7" text-anchor="middle" font-family="'Liberation Serif', 'Times New Roman', serif" font-size="48.5" fill="#000">(f)</text>
<rect x="1729.3" y="998.5" width="19.3" height="236.3" fill="url(#parula)" stroke="#4a4a4a" stroke-width="0.8"/>
<text x="1757" y="1178.68" font-size="24.0">50</text>
<text x="1757" y="1111.93" font-size="24.0">100</text>
<text x="1757" y="1045.18" font-size="24.0">150</text>
<path d="M1748.6 1169.78h-1.8 M1748.6 1103.03h-1.8 M1748.6 1036.28h-1.8" stroke="#333" stroke-width="1"/>
<text transform="translate(1827.4,1116.65) rotate(-90)" text-anchor="middle" font-size="24.9">Field Strength (G)</text>
<path d="M140.5 1171.6C166.3 1168.2 193 1164.8 217.8 1161.4C240.8 1158.3 263.2 1155.3 284.3 1152.2C303.4 1149.3 321.3 1146.5 338.8 1143.5C355 1140.7 370.4 1137.9 385.5 1134.9C399.8 1132 413.5 1129.2 427.1 1125.9C440.4 1122.7 453.2 1119.2 466.4 1115.5C479.8 1111.6 493.3 1107.3 507 1103C521.2 1098.7 535.7 1094 550.2 1089.7C564.9 1085.3 579.9 1081 594.7 1076.7M371.7 1129.6L388.8 1135.2L375.4 1147.2M140.5 1190.2C159.5 1188.3 178 1186.6 197.4 1184.4C217.5 1182.2 238.4 1179.8 259 1176.8C280 1173.9 301.8 1170.4 322.4 1166.8C341.9 1163.2 361.5 1159.3 379.5 1155.3C395.8 1151.7 411.1 1148 425.9 1144C439.6 1140.2 452.2 1136.2 465.1 1132C477.9 1127.8 490.4 1123.1 503 1118.7M174.2 1178.4L190.6 1185.8L176 1196.3M140.5 1208.8C163.3 1207.3 186.3 1206.3 208.8 1204.4C230.8 1202.5 253 1200.3 274.2 1197.4C294.6 1194.7 314.8 1191.2 333.8 1187.4C351.4 1183.9 368.5 1179.8 384.5 1175.6C399.3 1171.7 413.3 1167.6 426.8 1163.2C439.5 1159 451.5 1154.8 463.2 1149.9C474.4 1145.2 485 1140 495.6 1134.6C506 1129.2 516 1123.2 526.4 1117.6C536.8 1112 547.5 1106.2 558.1 1101.1C568.4 1096.2 579 1091.6 589 1087.4C598.5 1083.5 607.5 1080.3 616.8 1076.7M323.1 1183.4L340.3 1188.6L327.2 1200.9M502.3 1118.8L520.3 1119.2L511 1134.6M336.2 1216.1C351.1 1211.1 366.6 1206.1 380.8 1201.1C394 1196.4 406.8 1192 418.7 1187.2C429.8 1182.7 440.1 1178.3 450.1 1173.4C459.6 1168.7 468.6 1163.7 477.3 1158.3C485.8 1153.2 493.7 1147.4 501.9 1141.9M418.7 1214.5C423.9 1210.8 428.9 1207.5 434.4 1203.5C440.7 1199 447.5 1194.1 454.2 1188.9C461.5 1183.4 469.2 1177.3 476.6 1171.3C483.9 1165.3 491 1159.2 498.2 1153.2M491.7 1213.6C492.1 1207 492 1200 492.9 1193.7C493.7 1187.8 495 1182.1 496.7 1176.8C498.4 1171.9 500.9 1167.5 503 1162.9M564.2 1214.7C559.5 1211.8 554.2 1209.1 550 1206C546.3 1203.3 542.9 1200.9 540 1197.4C536.8 1193.4 534.1 1187.8 532 1183C530.1 1178.5 528.5 1174.8 527.8 1169.4C526.8 1162 526.6 1150 528.9 1142.4C530.8 1136.1 534 1131.4 538.6 1126.3C544.4 1119.8 554.4 1114 562.3 1107.9M542.9 1215.2L540 1197.4L556.8 1203.8M620.8 1081.6C613.9 1085 606.3 1088.4 600 1091.7C594.6 1094.5 590.1 1096.6 585.3 1100C580.1 1103.7 574.8 1109 570.2 1113.6C566 1117.8 561.5 1121.3 558.9 1126.4C556.1 1131.8 554.8 1138.7 554.3 1145.3C553.8 1152.5 554.3 1161.4 556.6 1167.9C558.6 1173.7 562.1 1178.5 566.4 1183C571.3 1188.2 578.5 1192.6 585.3 1196.6C592.3 1200.7 599.4 1204.1 607.9 1207.2C618.1 1210.9 631 1213.2 642.6 1216.2M590.6 1106.8C587.6 1112.1 583.1 1117.2 581.5 1122.6C580.1 1127.5 580.1 1133 580.8 1137.7C581.5 1142.1 583 1146.3 585.3 1150C587.7 1153.9 591.3 1157.4 595 1160.5C598.8 1163.7 602.9 1165.9 607.9 1168.9C614.4 1172.8 622.9 1177.9 630.6 1181.7C638 1185.4 645.2 1188.8 653.2 1191.5C661.6 1194.4 670.2 1196.3 680 1198.3C691.6 1200.7 703.3 1202.4 718.6 1204.3C740.8 1207.1 773.1 1209.4 800.4 1212M800.4 1192.5C776.9 1190.4 751 1188.8 729.9 1186.3C712.6 1184.3 696.6 1183.3 683 1179.4C671.7 1176.2 662.3 1171.1 653.2 1166.4C645 1162.2 637.5 1158.2 630.6 1152.8C623.7 1147.4 615.4 1140.9 611.7 1134C608.6 1128.1 607.1 1120.9 607.9 1115.1C608.6 1109.6 612.6 1104.1 615.5 1100C617.9 1096.6 619.7 1094.7 623.7 1091.7C631.2 1086.1 646.5 1077.7 659.3 1072.7C672.9 1067.4 688.9 1064.6 703.2 1061.4C716.6 1058.4 727.8 1055.3 742.3 1053.7C760.1 1051.7 782.2 1052.5 802.2 1051.9M744.3 1197.1L729.9 1186.3L746.4 1179.2M686 1056.1L703.2 1061.4L690 1073.6M665.2 1076.8C659.3 1080.2 652.4 1082.7 647.4 1086.9C642.6 1090.9 637.9 1096.4 635.6 1101.2C633.7 1105.1 632.9 1108.7 633.2 1113C633.5 1118.4 635.5 1125.3 639.1 1130.8C643.4 1137.4 651 1143.8 659.3 1148.6C669 1154.2 682 1157.4 694.9 1160.5C709.4 1164 725.7 1165.8 742.3 1167.6C760.6 1169.6 781 1170.1 800.4 1171.4M801.6 1060.6C785.8 1060.5 768.8 1059.2 754.2 1060.2C741.4 1061.1 729.8 1063 718.6 1065.6C708.1 1068 698.1 1071.4 688.9 1075.1C680.4 1078.5 670.6 1081.8 665.2 1086.9C660.9 1090.9 657.9 1096 656.9 1101.2C655.8 1106.6 656.5 1113.7 659.3 1119C662.6 1125 669.9 1130.4 677.1 1134.4C685.3 1139 695.5 1141.4 706.7 1143.9C720.5 1147 738.4 1148.6 754.2 1149.8C769.7 1151 785 1150.6 800.4 1151M800.4 1130.6C788.9 1130.7 777.6 1131.5 766 1130.8C754.1 1130.1 740.5 1128.7 729.9 1126.1C721.2 1124 713.4 1122 706.7 1117.8C700.2 1113.7 692.4 1106.8 690.1 1101.2C688.5 1097.2 688.5 1092.6 690.1 1089.3C691.8 1085.8 697 1083.1 700.8 1081C704.5 1079 708.7 1078.2 712.7 1076.8M742.9 1138.5L729.9 1126.1L747.2 1121M800.4 1104.7C788.9 1106.1 777.5 1109.1 766 1108.9C754.2 1108.7 737.8 1108 730.5 1103.5C725.9 1100.6 722.1 1095.5 722.2 1091.7C722.3 1088 726.1 1083.9 730.5 1081C737.8 1076.3 755.3 1073.1 766 1072.7C774.7 1072.4 784.5 1073.4 789.8 1076.3C793.4 1078.3 796.9 1081.8 796.9 1084.6C796.9 1087.4 793.3 1090.8 789.8 1092.9C784.5 1096.1 773.9 1098 766 1098.2C758.1 1098.4 746.5 1097.1 742.3 1094C739.9 1092.2 738.5 1089 738.8 1086.9C739.1 1084.9 741.9 1083.4 743.5 1081.6" fill="none" stroke="#ff0000" stroke-width="2.6" stroke-linecap="round" stroke-linejoin="round"/>
<path d="M138.3 1146.38L802.26 1015.6" stroke="#000" stroke-width="2.6" stroke-linecap="round"/>
<path d="M117.5 985.4V1237.6H822.6" fill="none" stroke="#7a7a7a" stroke-width="1.3"/>
<path d="M138.3 1237.6v-7.2 M238.9 1237.6v-7.2 M339.5 1237.6v-7.2 M440.1 1237.6v-7.2 M540.7 1237.6v-7.2 M641.3 1237.6v-7.2 M741.9 1237.6v-7.2 M117.5 1216.8h7.2 M117.5 1116.2h7.2 M117.5 1015.6h7.2" stroke="#7a7a7a" stroke-width="1.3"/>
<text x="138.3" y="1274.2" text-anchor="middle" font-size="27.7">0</text>
<text x="238.9" y="1274.2" text-anchor="middle" font-size="27.7">0.05</text>
<text x="339.5" y="1274.2" text-anchor="middle" font-size="27.7">0.1</text>
<text x="440.1" y="1274.2" text-anchor="middle" font-size="27.7">0.15</text>
<text x="540.7" y="1274.2" text-anchor="middle" font-size="27.7">0.2</text>
<text x="641.3" y="1274.2" text-anchor="middle" font-size="27.7">0.25</text>
<text x="741.9" y="1274.2" text-anchor="middle" font-size="27.7">0.3</text>
<text x="110.1" y="1227.8" text-anchor="end" font-size="27.7">0</text>
<text x="110.1" y="1127.2" text-anchor="end" font-size="27.7">0.05</text>
<text x="110.1" y="1026.6" text-anchor="end" font-size="27.7">0.1</text>
<text x="470.05" y="1312.6" text-anchor="middle" font-size="30.5" clip-path="url(#clipx2L)">Axial Position (m)</text>
<text transform="translate(45,1110.9) rotate(-90)" text-anchor="middle" font-size="30.5">Radial Position (m)</text>
<text x="454.3" y="1379.7" text-anchor="middle" font-family="'Liberation Serif', 'Times New Roman', serif" font-size="48.5" fill="#000">(e)</text>
</g>
<g id="row3">
<path d="M1575.1 1681.8L1586.5 1681.8L1605.4 1681.8L1624.3 1681.8L1643.2 1681.8L1662.1 1681.8L1675.9 1681.8L1680.1 1662.9L1681 1661.8L1697.3 1644L1699.9 1641.3L1699.9 1625L1699.9 1606.1L1699.9 1587.2L1699.9 1572.4L1686.7 1568.3L1681 1567.3L1679.5 1568.3L1662.1 1585.5L1660.1 1587.2L1643.2 1603.4L1640.1 1606.1L1624.3 1621.5L1619.5 1625L1605.4 1637.7L1594.4 1644L1586.5 1653.5L1580.9 1662.9Z" fill="#4332c8" stroke="#4332c8" stroke-width="0.6" stroke-linejoin="round"/>
<path d="M1521.1 1681.8L1529.8 1681.8L1548.7 1681.8L1567.6 1681.8L1575.1 1681.8L1580.9 1662.9L1586.5 1653.5L1594.4 1644L1605.4 1637.7L1619.5 1625L1624.3 1621.5L1640.1 1606.1L1643.2 1603.4L1660.1 1587.2L1662.1 1585.5L1679.5 1568.3L1681 1567.3L1686.7 1568.3L1699.9 1572.4L1699.9 1568.3L1699.9 1549.4L1699.9 1535.3L1681 1547.5L1677.7 1549.4L1662.1 1560.9L1650.3 1568.3L1643.2 1574.7L1627.5 1587.2L1624.3 1590L1605.4 1605.9L1605.1 1606.1L1586.5 1621.8L1581.5 1625L1567.6 1633.9L1550.3 1644L1548.7 1645.9L1534.2 1662.9L1529.8 1670.4ZM1675.9 1681.8L1681 1681.8L1699.9 1681.8L1699.9 1662.9L1699.9 1644L1699.9 1641.3L1697.3 1644L1681 1661.8L1680.1 1662.9Z" fill="#4539d9" stroke="#4539d9" stroke-width="0.6" stroke-linejoin="round"/>
<path d="M1457.8 1681.8L1473.1 1681.8L1492 1681.8L1510.9 1681.8L1521.1 1681.8L1529.8 1670.4L1534.2 1662.9L1548.7 1645.9L1550.3 1644L1567.6 1633.9L1581.5 1625L1586.5 1621.8L1605.1 1606.1L1605.4 1605.9L1624.3 1590L1627.5 1587.2L1643.2 1574.7L1650.3 1568.3L1662.1 1560.9L1677.7 1549.4L1681 1547.5L1699.9 1535.3L1699.9 1530.4L1699.9 1511.5L1699.9 1503.6L1694.1 1511.5L1686.4 1530.4L1681 1534.8L1662.1 1545.7L1653.6 1549.4L1643.2 1555.7L1624.3 1567.1L1621.5 1568.3L1605.4 1580.8L1597.9 1587.2L1586.5 1596.1L1572 1606.1L1567.6 1608.9L1548.7 1615.6L1529.8 1622.8L1525.2 1625L1510.9 1635.4L1492 1639.4L1482.7 1644L1473.1 1654.9L1468.8 1662.9Z" fill="#4641e3" stroke="#4641e3" stroke-width="0.6" stroke-linejoin="round"/>
<path d="M1388.8 1681.8L1397.5 1681.8L1416.4 1681.8L1435.3 1681.8L1454.2 1681.8L1457.8 1681.8L1468.8 1662.9L1473.1 1654.9L1482.7 1644L1492 1639.4L1510.9 1635.4L1525.2 1625L1529.8 1622.8L1548.7 1615.6L1567.6 1608.9L1572 1606.1L1586.5 1596.1L1597.9 1587.2L1605.4 1580.8L1621.5 1568.3L1624.3 1567.1L1643.2 1555.7L1653.6 1549.4L1662.1 1545.7L1681 1534.8L1686.4 1530.4L1694.1 1511.5L1699.9 1503.6L1699.9 1492.6L1681 1511.5L1677.9 1511.5L1667.8 1530.4L1662.1 1533.8L1643.2 1540.7L1625.2 1549.4L1624.3 1549.9L1605.4 1556.6L1586.5 1564.8L1579.7 1568.3L1567.6 1577.1L1548.7 1584.4L1542.3 1587.2L1529.8 1592.2L1510.9 1599.7L1492 1598.2L1473.1 1598.2L1455.3 1606.1L1454.2 1606.8L1435.3 1624.7L1434.9 1625L1416.4 1642.6L1414.9 1644L1397.5 1661.5L1396.7 1662.9Z" fill="#4748ec" stroke="#4748ec" stroke-width="0.6" stroke-linejoin="round"/>
<path d="M1345 1681.8L1359.7 1681.8L1378.6 1681.8L1388.8 1681.8L1396.7 1662.9L1397.5 1661.5L1414.9 1644L1416.4 1642.6L1434.9 1625L1435.3 1624.7L1454.2 1606.8L1455.3 1606.1L1473.1 1598.2L1492 1598.2L1510.9 1599.7L1529.8 1592.2L1542.3 1587.2L1548.7 1584.4L1567.6 1577.1L1579.7 1568.3L1586.5 1564.8L1605.4 1556.6L1624.3 1549.9L1625.2 1549.4L1643.2 1540.7L1662.1 1533.8L1667.8 1530.4L1677.9 1511.5L1662.5 1511.5L1662.1 1512.2L1643.2 1517.3L1626.3 1530.4L1624.3 1531L1605.4 1533.1L1586.5 1536.9L1567.6 1546.2L1557.1 1549.4L1548.7 1550.4L1529.8 1552.9L1510.9 1554.6L1492 1552.5L1473.1 1550.4L1454.2 1554.5L1435.3 1564.6L1427.3 1568.3L1416.4 1575L1400.9 1587.2L1397.5 1590.2L1380.9 1606.1L1378.6 1608.9L1373.1 1625L1364 1644L1359.7 1652.3L1355.3 1662.9Z" fill="#4653f3" stroke="#4653f3" stroke-width="0.6" stroke-linejoin="round"/>
<path d="M1304.6 1681.8L1321.9 1681.8L1340.8 1681.8L1345 1681.8L1355.3 1662.9L1359.7 1652.3L1364 1644L1373.1 1625L1378.6 1608.9L1380.9 1606.1L1397.5 1590.2L1400.9 1587.2L1416.4 1575L1427.3 1568.3L1435.3 1564.6L1454.2 1554.5L1473.1 1550.4L1492 1552.5L1510.9 1554.6L1529.8 1552.9L1548.7 1550.4L1557.1 1549.4L1567.6 1546.2L1586.5 1536.9L1605.4 1533.1L1624.3 1531L1626.3 1530.4L1643.2 1517.3L1662.1 1512.2L1662.5 1511.5L1662.1 1511.5L1643.2 1511.5L1624.3 1511.5L1605.4 1530.4L1586.5 1530.4L1567.6 1530.4L1548.7 1530.4L1529.8 1530.4L1510.9 1549.4L1492 1549.4L1473.1 1549.4L1454.2 1549.4L1435.3 1549.4L1416.4 1568.3L1397.5 1568.3L1378.6 1568.3L1359.7 1568.3L1348.4 1579.6L1347.8 1587.2L1343.6 1606.1L1340.8 1618L1338.8 1625L1330.1 1644L1321.9 1657.9L1317.9 1662.9Z" fill="#455ef9" stroke="#455ef9" stroke-width="0.6" stroke-linejoin="round"/>
<path d="M1261.8 1681.8L1265.2 1681.8L1284.1 1681.8L1303 1681.8L1304.6 1681.8L1317.9 1662.9L1321.9 1657.9L1330.1 1644L1338.8 1625L1340.8 1618L1343.6 1606.1L1347.8 1587.2L1348.4 1579.6L1340.8 1587.2L1321.9 1587.2L1303 1587.2L1284.1 1587.2L1265.2 1587.2L1265.2 1587.2L1265.2 1606.1L1265.2 1625L1265.2 1644L1264.8 1662.9Z" fill="#4169fd" stroke="#4169fd" stroke-width="0.6" stroke-linejoin="round"/>
<path d="M1207.2 1681.8L1208.5 1681.8L1227.4 1681.8L1246.3 1681.8L1261.8 1681.8L1264.8 1662.9L1265.2 1644L1265.2 1625L1265.2 1606.1L1265.2 1587.2L1246.3 1606.1L1227.4 1606.1L1221.9 1606.1L1208.5 1622.3L1206.8 1625L1208.5 1631.6L1212.9 1644L1227.4 1662.9L1208.5 1671.2Z" fill="#3a73fc" stroke="#3a73fc" stroke-width="0.6" stroke-linejoin="round"/>
<path d="M1170 1681.8L1170.7 1681.8L1189.6 1681.8L1207.2 1681.8L1208.5 1671.2L1227.4 1662.9L1212.9 1644L1208.5 1631.6L1206.8 1625L1208.5 1622.3L1221.9 1606.1L1208.5 1606.1L1189.6 1606.1L1170.7 1606.1L1170.7 1606.1L1170.7 1625L1170.7 1625L1173.4 1644L1175 1662.9L1170.7 1678.1Z" fill="#327dfa" stroke="#327dfa" stroke-width="0.6" stroke-linejoin="round"/>
<path d="M1147.4 1681.8L1151.8 1681.8L1170 1681.8L1170.7 1678.1L1175 1662.9L1173.4 1644L1170.7 1625L1170.7 1625L1170.7 1606.1L1151.8 1625L1146.3 1625L1147.6 1644L1147.8 1662.9Z" fill="#2d87f5" stroke="#2d87f5" stroke-width="0.6" stroke-linejoin="round"/>
<path d="M1129.4 1681.8L1132.9 1681.8L1147.4 1681.8L1147.8 1662.9L1147.6 1644L1146.3 1625L1132.9 1625L1128.8 1625L1129 1644L1129.2 1662.9Z" fill="#2a90ef" stroke="#2a90ef" stroke-width="0.6" stroke-linejoin="round"/>
<path d="M1114.5 1681.8L1129.4 1681.8L1129.2 1662.9L1129 1644L1128.8 1625L1114 1625L1113.6 1625L1113.8 1644L1114 1658.1L1114.1 1662.9Z" fill="#2599e9" stroke="#2599e9" stroke-width="0.6" stroke-linejoin="round"/>
<path d="M1103.5 1681.8L1114 1681.8L1114.5 1681.8L1114.1 1662.9L1114 1658.1L1113.8 1644L1113.6 1625L1102.2 1625L1102.6 1644L1103 1662.9Z" fill="#1da1e4" stroke="#1da1e4" stroke-width="0.6" stroke-linejoin="round"/>
<path d="M1093 1681.8L1095.1 1681.8L1103.5 1681.8L1103 1662.9L1102.6 1644L1102.2 1625L1095.1 1625L1091.5 1625L1092 1644L1092.5 1662.9Z" fill="#15a8df" stroke="#15a8df" stroke-width="0.6" stroke-linejoin="round"/>
<path d="M1083.7 1681.8L1093 1681.8L1092.5 1662.9L1092 1644L1091.5 1625L1081.9 1625L1082.5 1644L1083.1 1662.9Z" fill="#0fafd7" stroke="#0fafd7" stroke-width="0.6" stroke-linejoin="round"/>
<path d="M1076.2 1681.8L1083.7 1681.8L1083.1 1662.9L1082.5 1644L1081.9 1625L1076.2 1625L1076.2 1644L1076.2 1662.9Z" fill="#09b5cf" stroke="#09b5cf" stroke-width="0.6" stroke-linejoin="round"/>
<path d="M1575.1 1681.8L1580.9 1662.9L1586.5 1653.5L1594.4 1644L1605.4 1637.7L1619.5 1625L1624.3 1621.5L1640.1 1606.1L1643.2 1603.4L1660.1 1587.2L1662.1 1585.5L1679.5 1568.3L1681 1567.3L1686.7 1568.3L1699.9 1572.4M1699.9 1641.3L1697.3 1644L1681 1661.8L1680.1 1662.9L1675.9 1681.8M1521.1 1681.8L1529.8 1670.4L1534.2 1662.9L1548.7 1645.9L1550.3 1644L1567.6 1633.9L1581.5 1625L1586.5 1621.8L1605.1 1606.1L1605.4 1605.9L1624.3 1590L1627.5 1587.2L1643.2 1574.7L1650.3 1568.3L1662.1 1560.9L1677.7 1549.4L1681 1547.5L1699.9 1535.3M1457.8 1681.8L1468.8 1662.9L1473.1 1654.9L1482.7 1644L1492 1639.4L1510.9 1635.4L1525.2 1625L1529.8 1622.8L1548.7 1615.6L1567.6 1608.9L1572 1606.1L1586.5 1596.1L1597.9 1587.2L1605.4 1580.8L1621.5 1568.3L1624.3 1567.1L1643.2 1555.7L1653.6 1549.4L1662.1 1545.7L1681 1534.8L1686.4 1530.4L1694.1 1511.5L1699.9 1503.6M1388.8 1681.8L1396.7 1662.9L1397.5 1661.5L1414.9 1644L1416.4 1642.6L1434.9 1625L1435.3 1624.7L1454.2 1606.8L1455.3 1606.1L1473.1 1598.2L1492 1598.2L1510.9 1599.7L1529.8 1592.2L1542.3 1587.2L1548.7 1584.4L1567.6 1577.1L1579.7 1568.3L1586.5 1564.8L1605.4 1556.6L1624.3 1549.9L1625.2 1549.4L1643.2 1540.7L1662.1 1533.8L1667.8 1530.4L1677.9 1511.5M1345 1681.8L1355.3 1662.9L1359.7 1652.3L1364 1644L1373.1 1625L1378.6 1608.9L1380.9 1606.1L1397.5 1590.2L1400.9 1587.2L1416.4 1575L1427.3 1568.3L1435.3 1564.6L1454.2 1554.5L1473.1 1550.4L1492 1552.5L1510.9 1554.6L1529.8 1552.9L1548.7 1550.4L1557.1 1549.4L1567.6 1546.2L1586.5 1536.9L1605.4 1533.1L1624.3 1531L1626.3 1530.4L1643.2 1517.3L1662.1 1512.2L1662.5 1511.5M1304.6 1681.8L1317.9 1662.9L1321.9 1657.9L1330.1 1644L1338.8 1625L1340.8 1618L1343.6 1606.1L1347.8 1587.2L1348.4 1579.6M1261.8 1681.8L1264.8 1662.9L1265.2 1644L1265.2 1625L1265.2 1606.1L1265.2 1587.2M1207.2 1681.8L1208.5 1671.2L1227.4 1662.9L1212.9 1644L1208.5 1631.6L1206.8 1625L1208.5 1622.3L1221.9 1606.1M1170 1681.8L1170.7 1678.1L1175 1662.9L1173.4 1644L1170.7 1625L1170.7 1625L1170.7 1606.1M1147.4 1681.8L1147.8 1662.9L1147.6 1644L1146.3 1625M1129.4 1681.8L1129.2 1662.9L1129 1644L1128.8 1625M1114.5 1681.8L1114.1 1662.9L1114 1658.1L1113.8 1644L1113.6 1625M1103.5 1681.8L1103 1662.9L1102.6 1644L1102.2 1625M1093 1681.8L1092.5 1662.9L1092 1644L1091.5 1625M1083.7 1681.8L1083.1 1662.9L1082.5 1644L1081.9 1625" fill="none" stroke="#1a1a1a" stroke-width="0.75" stroke-linejoin="round"/>
<path d="M1076.2 1615.58L1699.9 1492.6" stroke="#000" stroke-width="2.6" stroke-linecap="round"/>
<path d="M1057.2 1464.2V1700.9H1718.7" fill="none" stroke="#7a7a7a" stroke-width="1.3"/>
<path d="M1076.2 1700.9v-7.2 M1170.7 1700.9v-7.2 M1265.2 1700.9v-7.2 M1359.7 1700.9v-7.2 M1454.2 1700.9v-7.2 M1548.7 1700.9v-7.2 M1643.2 1700.9v-7.2 M1057.2 1681.8h7.2 M1057.2 1587.2h7.2 M1057.2 1492.6h7.2" stroke="#7a7a7a" stroke-width="1.3"/>
<text x="1076.2" y="1737.5" text-anchor="middle" font-size="27.7">0</text>
<text x="1170.7" y="1737.5" text-anchor="middle" font-size="27.7">0.05</text>
<text x="1265.2" y="1737.5" text-anchor="middle" font-size="27.7">0.1</text>
<text x="1359.7" y="1737.5" text-anchor="middle" font-size="27.7">0.15</text>
<text x="1454.2" y="1737.5" text-anchor="middle" font-size="27.7">0.2</text>
<text x="1548.7" y="1737.5" text-anchor="middle" font-size="27.7">0.25</text>
<text x="1643.2" y="1737.5" text-anchor="middle" font-size="27.7">0.3</text>
<text x="1049.8" y="1692.8" text-anchor="end" font-size="27.7">0</text>
<text x="1049.8" y="1598.2" text-anchor="end" font-size="27.7">0.05</text>
<text x="1049.8" y="1503.6" text-anchor="end" font-size="27.7">0.1</text>
<text x="1387.95" y="1775.9" text-anchor="middle" font-size="30.5" clip-path="url(#clipx3R)">Axial Position (m)</text>
<text transform="translate(984,1581.6) rotate(-90)" text-anchor="middle" font-size="30.5">Radial Position (m)</text>
<text x="1400" y="1846.9" text-anchor="middle" font-family="'Liberation Serif', 'Times New Roman', serif" font-size="48.5" fill="#000">(h)</text>
<rect x="1729.3" y="1465.7" width="19.3" height="236.3" fill="url(#parula)" stroke="#4a4a4a" stroke-width="0.8"/>
<text x="1757" y="1645.88" font-size="24.0">50</text>
<text x="1757" y="1579.13" font-size="24.0">100</text>
<text x="1757" y="1512.38" font-size="24.0">150</text>
<path d="M1748.6 1636.98h-1.8 M1748.6 1570.23h-1.8 M1748.6 1503.48h-1.8" stroke="#333" stroke-width="1"/>
<text transform="translate(1827.4,1583.85) rotate(-90)" text-anchor="middle" font-size="24.9">Field Strength (G)</text>
<path d="M523.2 1557.7L608.7 1543M140.4 1638.1C163 1635.3 185.7 1632.7 208.2 1629.8C230.4 1626.9 252.5 1624 274.3 1620.8C295.6 1617.8 316.3 1614.6 337.5 1611.2C358.8 1607.8 380.1 1604.1 401.6 1600.4C423.3 1596.6 445.7 1592.7 467 1588.7C487.5 1584.8 507.6 1581 527 1576.9C545.3 1573 562.8 1569.1 580.2 1564.8C597.1 1560.6 613.9 1556.1 630 1551.4C645.3 1546.8 660.4 1542 674.8 1537.2C688.2 1532.7 700.5 1528 713.3 1523.4M374.4 1596.9L391.3 1603.2L377.4 1614.7M140.4 1656C159.9 1654.6 178.7 1653.5 198.8 1651.8C220.1 1650 242.3 1648 264.9 1645.3C288.5 1642.6 313.3 1639.2 337.2 1635.5C361 1631.9 385.3 1627.6 408.2 1623.4C429.6 1619.5 450.4 1615.5 470.3 1611.4C488.7 1607.6 505.9 1603.9 523.4 1599.9C540.7 1596 558 1591.8 574.6 1587.6C590.5 1583.5 606.7 1579.3 620.9 1575C633.1 1571.2 643.9 1567.4 654.7 1563.1C664.9 1559.1 674.3 1554.7 684 1550C693.9 1545.4 704.1 1540.3 713.4 1535.2C722.2 1530.5 730.6 1525.6 738.5 1520.6C745.9 1516 752.6 1511.3 759.7 1506.7M174.2 1645.3L190.4 1653.2L175.5 1663.3M503.7 1596.1L520.9 1601.5L507.6 1613.7M140.4 1674C166.6 1673.2 193.6 1672.7 218.9 1671.5C242.7 1670.4 265.6 1669.3 287.9 1667.2C309.1 1665.3 329 1662.8 349.5 1659.7C370.1 1656.7 390.8 1652.9 411.4 1649C431.9 1645 452.6 1640.8 472.6 1636.1C491.8 1631.7 510.5 1627 529.1 1621.8C547.3 1616.7 565.4 1611.1 583 1605.3C600.4 1599.6 618 1593.4 634.1 1587.3C649 1581.7 663.6 1575.8 676.6 1570C687.9 1564.9 698.3 1559.9 707.9 1554.7C716.4 1550 723.9 1545.5 731.5 1540.3C739.1 1535.1 746.1 1529.6 753.3 1523.6C761 1517.3 768.5 1510.1 776.1 1503.3M322.8 1655.6L339.4 1662.6L325 1673.4M713.4 1543.2L731.4 1542L723.5 1558.2M285.7 1683.8C309.3 1680.5 333.4 1677.3 356.5 1673.8C378.7 1670.4 400.9 1666.9 421.8 1663.1C441.4 1659.6 460 1656 478.4 1651.8C496.1 1647.7 513 1643.3 530.3 1638.2C547.9 1632.9 565.7 1626.9 583 1620.6C600.3 1614.4 617.9 1607.4 634.2 1600.7C649.3 1594.4 663.9 1588 677.6 1581.7C690.1 1576 701.4 1570.4 713.3 1564.7M448.9 1683.4C461.8 1680.1 474.2 1677.2 487.6 1673.6C502.1 1669.6 517.5 1665.3 533 1660.3C549.5 1654.9 567.2 1648.5 583.8 1642.1C600.2 1635.8 617.1 1628.8 632.3 1622.1C646.2 1615.9 659.4 1610.2 671.6 1603.6C682.8 1597.5 692.7 1591.4 703.1 1584.2C714.2 1576.4 724.6 1567.4 735.9 1558.1C748.3 1547.8 761.6 1536.1 774.4 1525.1M513.5 1659.2L531.1 1663.2L518.9 1676.4M682.9 1590.2L700.9 1589.5L692.5 1605.4M591.7 1682.5C603.4 1676 615.4 1669.7 626.7 1663.1C637.6 1656.7 648.1 1650.6 658.4 1643.5C668.7 1636.4 678.2 1629 688.3 1620.7C699.2 1611.6 710.1 1601.2 721.4 1590.7C733.6 1579.4 746.5 1566.9 759.1 1555M664.1 1681.2C674.5 1668.1 684.8 1654.6 695.4 1641.9C705.8 1629.5 716.4 1617.9 726.9 1605.9M737.1 1681.2C734.7 1675.5 732 1669.7 729.9 1664.1C727.9 1658.8 724.5 1654.6 724.7 1648.4C725 1638.9 734 1624.5 739.5 1612.7C745.2 1600.5 751.5 1588.4 758.2 1576.5C764.9 1564.4 772.4 1552.5 779.7 1540.6C786.9 1528.8 794.3 1517.1 801.6 1505.3M723.6 1679.6L726.9 1661.9L740.6 1673.6M775.6 1569.2C774.2 1573.5 772.5 1577.8 771.5 1582C770.5 1586 769.8 1590.3 769.5 1594C769.3 1597.2 769.2 1600.3 769.6 1603.1C770 1605.7 770.8 1608.2 771.8 1610.5C772.8 1612.7 774.2 1614.8 775.6 1616.7C777 1618.6 778.3 1620.1 780.1 1622C782.5 1624.5 785.8 1627.5 789.1 1630C792.6 1632.7 796.6 1635.1 800.4 1637.6M743.9 1624.6C744.4 1628.1 744.6 1631.6 745.5 1635.1C746.5 1638.6 747.5 1642.1 749.4 1645.4C751.4 1648.9 754.2 1652.2 757.4 1655.2C761 1658.5 765.5 1661.4 770 1664C774.7 1666.8 779.9 1669.2 785 1671.5C790.1 1673.8 795.3 1675.7 800.4 1677.8" fill="none" stroke="#ff0000" stroke-width="2.6" stroke-linecap="round" stroke-linejoin="round"/>
<path d="M138.3 1613.58L802.26 1482.8" stroke="#000" stroke-width="2.6" stroke-linecap="round"/>
<path d="M117.5 1452.6V1704.8H822.6" fill="none" stroke="#7a7a7a" stroke-width="1.3"/>
<path d="M138.3 1704.8v-7.2 M238.9 1704.8v-7.2 M339.5 1704.8v-7.2 M440.1 1704.8v-7.2 M540.7 1704.8v-7.2 M641.3 1704.8v-7.2 M741.9 1704.8v-7.2 M117.5 1684h7.2 M117.5 1583.4h7.2 M117.5 1482.8h7.2" stroke="#7a7a7a" stroke-width="1.3"/>
<text x="138.3" y="1741.4" text-anchor="middle" font-size="27.7">0</text>
<text x="238.9" y="1741.4" text-anchor="middle" font-size="27.7">0.05</text>
<text x="339.5" y="1741.4" text-anchor="middle" font-size="27.7">0.1</text>
<text x="440.1" y="1741.4" text-anchor="middle" font-size="27.7">0.15</text>
<text x="540.7" y="1741.4" text-anchor="middle" font-size="27.7">0.2</text>
<text x="641.3" y="1741.4" text-anchor="middle" font-size="27.7">0.25</text>
<text x="741.9" y="1741.4" text-anchor="middle" font-size="27.7">0.3</text>
<text x="110.1" y="1695" text-anchor="end" font-size="27.7">0</text>
<text x="110.1" y="1594.4" text-anchor="end" font-size="27.7">0.05</text>
<text x="110.1" y="1493.8" text-anchor="end" font-size="27.7">0.1</text>
<text x="470.05" y="1779.8" text-anchor="middle" font-size="30.5" clip-path="url(#clipx3L)">Axial Position (m)</text>
<text transform="translate(45,1578.1) rotate(-90)" text-anchor="middle" font-size="30.5">Radial Position (m)</text>
<text x="454.3" y="1846.9" text-anchor="middle" font-family="'Liberation Serif', 'Times New Roman', serif" font-size="48.5" fill="#000">(g)</text>
</g>
</svg></body></html>
